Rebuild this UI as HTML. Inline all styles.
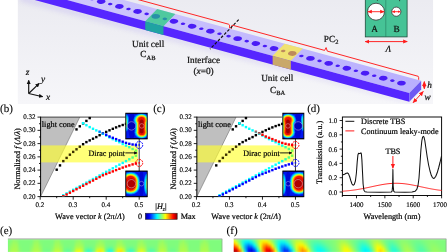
<!DOCTYPE html>
<html lang="en"><head><meta charset="utf-8"><title>Figure</title>
<style>
html,body{margin:0;padding:0;background:#fff;}
body{width:448px;height:252px;overflow:hidden;}
svg{display:block;filter:blur(0.3px);font-family:"Liberation Serif","Times New Roman",serif;text-rendering:geometricPrecision;}
.t{font-size:9.3px;fill:#111;stroke:#111;stroke-width:0.22px;}
.p{font-size:8.2px;fill:#000;stroke:#000;stroke-width:0.2px;}
.tk{font-size:7px;fill:#000;stroke:#000;stroke-width:0.15px;}
.lab{font-size:11px;fill:#000;stroke:#000;stroke-width:0.1px;}
.it{font-style:italic;}
</style></head><body>
<svg width="448" height="252" viewBox="0 0 448 252">
<defs>
<linearGradient id="topf" gradientUnits="userSpaceOnUse" x1="60" y1="0" x2="420" y2="0"><stop offset="0" stop-color="#cfc8fc"/><stop offset="1" stop-color="#b9affe"/></linearGradient>
<linearGradient id="bg" x1="0" y1="0" x2="0" y2="1"><stop offset="0" stop-color="#ebebf1"/><stop offset="1" stop-color="#f6f6f9"/></linearGradient>
<linearGradient id="jet" x1="0" y1="0" x2="1" y2="0">
<stop offset="0" stop-color="#00008f"/><stop offset="0.12" stop-color="#0000ff"/><stop offset="0.37" stop-color="#00ffff"/><stop offset="0.5" stop-color="#80ff80"/><stop offset="0.63" stop-color="#ffff00"/><stop offset="0.88" stop-color="#ff0000"/><stop offset="1" stop-color="#800000"/></linearGradient>
<radialGradient id="redblob" cx="0.5" cy="0.5" r="0.5">
<stop offset="0" stop-color="#a00000"/><stop offset="0.3" stop-color="#e00000"/><stop offset="0.5" stop-color="#ff3000"/><stop offset="0.64" stop-color="#ffd000"/><stop offset="0.76" stop-color="#80ff80"/><stop offset="0.88" stop-color="#00d8ff"/><stop offset="1" stop-color="#0040ff" stop-opacity="0"/></radialGradient>
<radialGradient id="edgeblob" cx="0.5" cy="0.5" r="0.5">
<stop offset="0" stop-color="#ffe000"/><stop offset="0.35" stop-color="#60ffa0"/><stop offset="0.7" stop-color="#00c0ff"/><stop offset="1" stop-color="#0040ff" stop-opacity="0"/></radialGradient>
<radialGradient id="gy" cx="0.5" cy="0.5" r="0.5"><stop offset="0" stop-color="#ffe000"/><stop offset="0.5" stop-color="#d8ff30" stop-opacity="0.7"/><stop offset="1" stop-color="#a0ff60" stop-opacity="0"/></radialGradient>
<radialGradient id="gc" cx="0.5" cy="0.5" r="0.5"><stop offset="0" stop-color="#00e8ff"/><stop offset="0.5" stop-color="#30ffc0" stop-opacity="0.7"/><stop offset="1" stop-color="#60ffa0" stop-opacity="0"/></radialGradient>
<radialGradient id="gr" cx="0.5" cy="0.5" r="0.5"><stop offset="0" stop-color="#c00000"/><stop offset="0.3" stop-color="#ff2000"/><stop offset="0.55" stop-color="#ffc000"/><stop offset="0.8" stop-color="#c0ff40" stop-opacity="0.8"/><stop offset="1" stop-color="#80ff80" stop-opacity="0"/></radialGradient>
<radialGradient id="gb" cx="0.5" cy="0.5" r="0.5"><stop offset="0" stop-color="#0020e0"/><stop offset="0.35" stop-color="#0070ff"/><stop offset="0.6" stop-color="#00d8ff"/><stop offset="0.85" stop-color="#40ffc0" stop-opacity="0.8"/><stop offset="1" stop-color="#80ff80" stop-opacity="0"/></radialGradient>
<filter id="b1" x="-20%" y="-20%" width="140%" height="140%" color-interpolation-filters="sRGB"><feGaussianBlur stdDeviation="0.55"/></filter>
<filter id="b2" x="-20%" y="-50%" width="140%" height="200%" color-interpolation-filters="sRGB"><feGaussianBlur stdDeviation="2.5"/></filter>
<filter id="soft" color-interpolation-filters="sRGB"><feGaussianBlur stdDeviation="0.35"/></filter>
<marker id="ar" viewBox="0 0 6 6" refX="5.2" refY="3" markerWidth="4.9" markerHeight="4.9" orient="auto-start-reverse"><path d="M0,0.4 L6,3 L0,5.6 Z" fill="#ff1a1a"/></marker>
<marker id="ars" viewBox="0 0 6 6" refX="5.2" refY="3" markerWidth="3.4" markerHeight="3.4" orient="auto-start-reverse"><path d="M0,0.4 L6,3 L0,5.6 Z" fill="#ff1a1a"/></marker>
<marker id="ak" viewBox="0 0 6 6" refX="5" refY="3" markerWidth="3.9" markerHeight="3.9" orient="auto-start-reverse"><path d="M0,0.3 L6,3 L0,5.7 Z" fill="#111"/></marker>

<clipPath id="cpTop"><rect x="17.6" y="0" width="415.6" height="104.2"/></clipPath>
</defs>
<g clip-path="url(#cpTop)">
<rect x="17.6" y="0" width="415.6" height="104.2" fill="url(#bg)"/>
<polygon points="20,-5.00 409.7,100.88 413.7,103.88 20,1.00" fill="#b9aef0" opacity="0.38" filter="url(#b2)"/>
<polygon points="-20,-23.67 409.3,92.98 421.20,80.78 -8.1,-35.87" fill="url(#topf)"/>
<polygon points="-20,-23.67 409.3,92.98 409.3,101.78 -20,-14.87" fill="#5626ff"/>
<polygon points="409.3,92.98 421.20,80.78 421.20,89.58 409.3,101.78" fill="#6d58f2"/>
<polygon points="145.25,21.23 163.45,26.18 175.35,13.98 157.15,9.03" fill="#4fc99f"/>
<polygon points="145.25,21.23 163.45,26.18 163.45,34.98 145.25,30.03" fill="#1fa3a2"/>
<polygon points="272.65,55.85 290.85,60.79 302.75,48.59 284.55,43.65" fill="#f0e272"/>
<polygon points="272.65,55.85 290.85,60.79 290.85,69.59 272.65,64.65" fill="#c9a86a"/>
<circle r="2.0" fill="#4a1cf6" transform="matrix(1,0.2717,0.545,-0.559,219.45,33.68)"/>
<circle r="2.0" fill="#4a1cf6" transform="matrix(1,0.2717,0.545,-0.559,228.55,36.15)"/>
<circle r="3.8" fill="#4a1cf6" transform="matrix(1,0.2717,0.545,-0.559,210.35,31.20)"/>
<circle r="3.8" fill="#4a1cf6" transform="matrix(1,0.2717,0.545,-0.559,237.65,38.62)"/>
<circle r="2.0" fill="#4a1cf6" transform="matrix(1,0.2717,0.545,-0.559,201.25,28.73)"/>
<circle r="2.0" fill="#4a1cf6" transform="matrix(1,0.2717,0.545,-0.559,246.75,41.09)"/>
<circle r="3.8" fill="#4a1cf6" transform="matrix(1,0.2717,0.545,-0.559,192.15,26.26)"/>
<circle r="3.8" fill="#4a1cf6" transform="matrix(1,0.2717,0.545,-0.559,255.85,43.57)"/>
<circle r="2.0" fill="#4a1cf6" transform="matrix(1,0.2717,0.545,-0.559,183.05,23.79)"/>
<circle r="2.0" fill="#4a1cf6" transform="matrix(1,0.2717,0.545,-0.559,264.95,46.04)"/>
<circle r="3.8" fill="#4a1cf6" transform="matrix(1,0.2717,0.545,-0.559,173.95,21.31)"/>
<circle r="3.8" fill="#4a1cf6" transform="matrix(1,0.2717,0.545,-0.559,274.05,48.51)"/>
<circle r="2.0" fill="#2790a8" transform="matrix(1,0.2717,0.545,-0.559,164.85,18.84)"/>
<circle r="2.0" fill="#bd8a5c" transform="matrix(1,0.2717,0.545,-0.559,283.15,50.98)"/>
<circle r="3.8" fill="#2790a8" transform="matrix(1,0.2717,0.545,-0.559,155.75,16.37)"/>
<circle r="3.8" fill="#bd8a5c" transform="matrix(1,0.2717,0.545,-0.559,292.25,53.46)"/>
<circle r="2.0" fill="#4a1cf6" transform="matrix(1,0.2717,0.545,-0.559,146.65,13.90)"/>
<circle r="2.0" fill="#4a1cf6" transform="matrix(1,0.2717,0.545,-0.559,301.35,55.93)"/>
<circle r="3.8" fill="#4a1cf6" transform="matrix(1,0.2717,0.545,-0.559,137.55,11.42)"/>
<circle r="3.8" fill="#4a1cf6" transform="matrix(1,0.2717,0.545,-0.559,310.45,58.40)"/>
<circle r="2.0" fill="#4a1cf6" transform="matrix(1,0.2717,0.545,-0.559,128.45,8.95)"/>
<circle r="2.0" fill="#4a1cf6" transform="matrix(1,0.2717,0.545,-0.559,319.55,60.87)"/>
<circle r="3.8" fill="#4a1cf6" transform="matrix(1,0.2717,0.545,-0.559,119.35,6.48)"/>
<circle r="3.8" fill="#4a1cf6" transform="matrix(1,0.2717,0.545,-0.559,328.65,63.35)"/>
<circle r="2.0" fill="#4a1cf6" transform="matrix(1,0.2717,0.545,-0.559,110.25,4.01)"/>
<circle r="2.0" fill="#4a1cf6" transform="matrix(1,0.2717,0.545,-0.559,337.75,65.82)"/>
<circle r="3.8" fill="#4a1cf6" transform="matrix(1,0.2717,0.545,-0.559,101.15,1.54)"/>
<circle r="3.8" fill="#4a1cf6" transform="matrix(1,0.2717,0.545,-0.559,346.85,68.29)"/>
<circle r="2.0" fill="#4a1cf6" transform="matrix(1,0.2717,0.545,-0.559,92.05,-0.94)"/>
<circle r="2.0" fill="#4a1cf6" transform="matrix(1,0.2717,0.545,-0.559,355.95,70.76)"/>
<circle r="3.8" fill="#4a1cf6" transform="matrix(1,0.2717,0.545,-0.559,365.05,73.24)"/>
<circle r="2.0" fill="#4a1cf6" transform="matrix(1,0.2717,0.545,-0.559,374.15,75.71)"/>
<circle r="3.8" fill="#4a1cf6" transform="matrix(1,0.2717,0.545,-0.559,383.25,78.18)"/>
<circle r="2.0" fill="#4a1cf6" transform="matrix(1,0.2717,0.545,-0.559,392.35,80.65)"/>
<circle r="3.8" fill="#4a1cf6" transform="matrix(1,0.2717,0.545,-0.559,401.45,83.13)"/>
<path d="M100,-10.8 L228.5,24.2 Q229.6,24.5 229.6,25.9 L229.6,28.3 M231.5,28.8 L231.5,26.4 Q231.5,25.0 232.9,25.3 L324.6,50.4 L326.1,47.6 L327.3,51.1 L418.2,76.3 Q418.8,76.6 418.7,79.8" fill="none" stroke="#ff1a1a" stroke-width="0.95"/>
<path d="M238.7,19.6 L210,49.2" stroke="#111" stroke-width="1.15" stroke-dasharray="2.8,1.7" fill="none"/>
<path d="M424.3,81.6 L424.3,88.8" stroke="#ff1a1a" stroke-width="1" marker-start="url(#ar)" marker-end="url(#ar)" fill="none"/>
<path d="M413.2,102.6 L423.2,91.6" stroke="#ff1a1a" stroke-width="1" marker-start="url(#ar)" marker-end="url(#ar)" fill="none"/>
<text class="t it" x="427.2" y="88.2" font-size="9.3">h</text>
<text class="t it" x="424.4" y="100.4">w</text>
<rect x="365.3" y="-3" width="41.8" height="39.9" fill="#46c396" stroke="#1f4d3d" stroke-width="0.8"/>
<path d="M385.8,0 V36.9" stroke="#1f6d55" stroke-width="0.5"/>
<circle cx="376" cy="11.7" r="8.5" fill="#fff" stroke="#333" stroke-width="0.8"/>
<circle cx="396.3" cy="11.7" r="4.6" fill="#fff" stroke="#333" stroke-width="0.8"/>
<path d="M368,11.7 H384" stroke="#ff1a1a" stroke-width="0.9" marker-start="url(#ar)" marker-end="url(#ar)"/>
<path d="M392.3,11.7 H400.3" stroke="#ff1a1a" stroke-width="0.9" marker-start="url(#ars)" marker-end="url(#ars)"/>
<path d="M377.4,0 V0.8 M399.6,0 V1.2" stroke="#222" stroke-width="0.8"/>
<text class="t" x="374.7" y="31.7" text-anchor="middle" font-size="9.6">A</text>
<text class="t" x="396.6" y="31.7" text-anchor="middle" font-size="9.6">B</text>
<path d="M365.2,41.6 H407.2" stroke="#ff1a1a" stroke-width="0.95" marker-start="url(#ar)" marker-end="url(#ar)"/>
<text class="t it" x="388.2" y="52.3" text-anchor="middle" font-size="10.2">Λ</text>
<text class="t" x="148.1" y="46.6" text-anchor="middle">Unit cell</text>
<text class="t" x="140.3" y="57.4">C<tspan font-size="6.5" dy="2.4">AB</tspan></text>
<text class="t" x="203.5" y="62.9" text-anchor="middle">Interface</text>
<text class="t" x="203.6" y="74.3" text-anchor="middle">(<tspan class="it">x</tspan>=0)</text>
<text class="t" x="277.3" y="80.7" text-anchor="middle">Unit cell</text>
<text class="t" x="270" y="92.6">C<tspan font-size="6.5" dy="2.2">BA</tspan></text>
<text class="t" x="323.8" y="41.9">PC<tspan font-size="6.5" dy="2.4">2</tspan></text>
<g stroke="#111" stroke-width="1.15" fill="none">
<path d="M28.7,93.5 V80.4" marker-end="url(#ak)"/>
<path d="M28.7,93.5 L39.2,83.4" marker-end="url(#ak)"/>
<path d="M28.7,93.5 L42.6,96.7" marker-end="url(#ak)"/>
</g>
<text class="t it" x="27.6" y="74.6" text-anchor="middle">z</text>
<text class="t it" x="43" y="81.6" text-anchor="middle">y</text>
<text class="t it" x="48" y="100" text-anchor="middle">x</text>
</g>
<text class="lab" x="0" y="111.7">(b)</text>
<text class="lab" x="153.2" y="111.7">(c)</text>
<text class="lab" x="307.2" y="111.7">(d)</text>
<text class="lab" x="0" y="234.3">(e)</text>
<text class="lab" x="226.6" y="234.3">(f)</text>
<g>
<polygon points="40.6,117.1 79.80,117.1 40.6,196.6" fill="#bfbfbf"/>
<path d="M79.80,117.1 L40.6,196.6" stroke="#555" stroke-width="0.5"/>
<rect x="40.6" y="145.4" width="97.40" height="17.0" fill="#ffff30" opacity="0.65"/>
<path d="M40.6,117.1 H125.7" stroke="#333" stroke-width="0.9"/>
<path d="M40.6,116.69999999999999 V196.6 H147.2" stroke="#000" stroke-width="1" fill="none"/>
<path d="M139.20,138.9 V171.1" stroke="#000" stroke-width="0.8"/>
<path d="M37.5,196.60 H40.6 M39.0,189.97 H40.6 M37.5,183.35 H40.6 M39.0,176.72 H40.6 M37.5,170.10 H40.6 M39.0,163.47 H40.6 M37.5,156.85 H40.6 M39.0,150.22 H40.6 M37.5,143.60 H40.6 M39.0,136.97 H40.6 M37.5,130.35 H40.6 M39.0,123.72 H40.6 M37.5,117.10 H40.6 M40.20,196.6 V199.7 M56.70,196.6 V198.2 M73.20,196.6 V199.7 M89.70,196.6 V198.2 M106.20,196.6 V199.7 M122.70,196.6 V198.2 M139.20,196.6 V199.7 " stroke="#000" stroke-width="0.85" fill="none"/>
<text class="tk" x="35.4" y="198.60" text-anchor="end">0.20</text>
<text class="tk" x="35.4" y="185.35" text-anchor="end">0.22</text>
<text class="tk" x="35.4" y="172.10" text-anchor="end">0.24</text>
<text class="tk" x="35.4" y="158.85" text-anchor="end">0.26</text>
<text class="tk" x="35.4" y="145.60" text-anchor="end">0.28</text>
<text class="tk" x="35.4" y="132.35" text-anchor="end">0.30</text>
<text class="tk" x="35.4" y="119.10" text-anchor="end">0.32</text>
<text class="tk" x="39.80" y="207.4" text-anchor="middle">0.2</text>
<text class="tk" x="72.80" y="207.4" text-anchor="middle">0.3</text>
<text class="tk" x="105.80" y="207.4" text-anchor="middle">0.4</text>
<text class="tk" x="138.80" y="207.4" text-anchor="middle">0.5</text>
<text class="p" transform="translate(19.6,158.9) rotate(-90)" text-anchor="middle" font-size="8.64">Normalized <tspan class="it">f</tspan> (<tspan class="it">Λ</tspan>/<tspan class="it">λ</tspan>)</text>
<text class="p" x="89.9" y="218.6" text-anchor="middle" font-size="8.45">Wave vector <tspan class="it">k</tspan> (2π/<tspan class="it">Λ</tspan>)</text>
<text class="p" x="41.8" y="127.1" textLength="32.8" lengthAdjust="spacingAndGlyphs">light cone</text>
<text class="p" x="88.5" y="155.5" textLength="36.5" lengthAdjust="spacingAndGlyphs">Dirac point</text>
<path d="M125.3,152.9 H137.0" stroke="#000" stroke-width="0.9" marker-end="url(#ak)"/>
<rect x="75.30" y="128.20" width="2.4" height="2.4" fill="#000"/>
<rect x="78.60" y="125.10" width="2.4" height="2.4" fill="#000"/>
<rect x="81.90" y="122.20" width="2.4" height="2.4" fill="#000"/>
<rect x="85.20" y="119.70" width="2.4" height="2.4" fill="#000"/>
<rect x="88.50" y="116.90" width="2.4" height="2.4" fill="#000"/>
<rect x="55.50" y="168.50" width="2.4" height="2.4" fill="#000"/>
<rect x="58.80" y="164.20" width="2.4" height="2.4" fill="#000"/>
<rect x="62.10" y="159.90" width="2.4" height="2.4" fill="#3c3000"/>
<rect x="65.40" y="156.70" width="2.4" height="2.4" fill="#3c3000"/>
<rect x="68.70" y="153.50" width="2.4" height="2.4" fill="#3c3000"/>
<rect x="72.00" y="150.70" width="2.4" height="2.4" fill="#3c3000"/>
<rect x="75.30" y="148.10" width="2.4" height="2.4" fill="#3c3000"/>
<rect x="78.60" y="145.50" width="2.4" height="2.4" fill="#3c3000"/>
<rect x="81.90" y="143.00" width="2.4" height="2.4" fill="#000"/>
<rect x="85.20" y="140.90" width="2.4" height="2.4" fill="#000"/>
<rect x="88.50" y="139.20" width="2.4" height="2.4" fill="#000"/>
<rect x="91.80" y="137.50" width="2.4" height="2.4" fill="#000"/>
<rect x="95.10" y="135.90" width="2.4" height="2.4" fill="#000"/>
<rect x="98.40" y="134.00" width="2.4" height="2.4" fill="#000"/>
<rect x="101.70" y="132.30" width="2.4" height="2.4" fill="#000"/>
<rect x="105.00" y="130.70" width="2.4" height="2.4" fill="#000"/>
<rect x="108.30" y="129.10" width="2.4" height="2.4" fill="#000"/>
<rect x="111.60" y="127.60" width="2.4" height="2.4" fill="#000"/>
<rect x="114.90" y="126.20" width="2.4" height="2.4" fill="#000"/>
<rect x="118.20" y="124.90" width="2.4" height="2.4" fill="#000"/>
<rect x="121.50" y="123.80" width="2.4" height="2.4" fill="#000"/>
<rect x="124.80" y="122.70" width="2.4" height="2.4" fill="#000"/>
<rect x="81.90" y="122.00" width="2.4" height="2.4" fill="#00ffff"/>
<rect x="85.20" y="124.00" width="2.4" height="2.4" fill="#00ffff"/>
<rect x="88.50" y="125.90" width="2.4" height="2.4" fill="#00ffff"/>
<rect x="91.80" y="127.60" width="2.4" height="2.4" fill="#00ffff"/>
<rect x="95.10" y="129.20" width="2.4" height="2.4" fill="#00ffff"/>
<rect x="98.40" y="130.80" width="2.4" height="2.4" fill="#00ffff"/>
<rect x="101.70" y="132.60" width="2.4" height="2.4" fill="#00ffff"/>
<rect x="105.00" y="134.40" width="2.4" height="2.4" fill="#00ffff"/>
<rect x="108.30" y="136.20" width="2.4" height="2.4" fill="#00ffff"/>
<rect x="111.60" y="137.90" width="2.4" height="2.4" fill="#00ffff"/>
<rect x="114.90" y="139.60" width="2.4" height="2.4" fill="#00ffff"/>
<rect x="118.20" y="141.00" width="2.4" height="2.4" fill="#00ffff"/>
<rect x="121.50" y="142.80" width="2.4" height="2.4" fill="#00ffff"/>
<rect x="124.80" y="144.40" width="2.4" height="2.4" fill="#10ffe6"/>
<rect x="128.10" y="146.00" width="2.4" height="2.4" fill="#30ffb4"/>
<rect x="131.40" y="147.80" width="2.4" height="2.4" fill="#50ff82"/>
<rect x="134.70" y="149.40" width="2.4" height="2.4" fill="#70ff50"/>
<rect x="62.10" y="194.00" width="2.4" height="2.4" fill="#00ffff"/>
<rect x="65.40" y="192.21" width="2.4" height="2.4" fill="#00ffff"/>
<rect x="68.70" y="190.41" width="2.4" height="2.4" fill="#00ffff"/>
<rect x="72.00" y="188.62" width="2.4" height="2.4" fill="#00ffff"/>
<rect x="75.30" y="186.82" width="2.4" height="2.4" fill="#00ffff"/>
<rect x="78.60" y="185.03" width="2.4" height="2.4" fill="#00ffff"/>
<rect x="81.90" y="183.23" width="2.4" height="2.4" fill="#00ffff"/>
<rect x="85.20" y="181.44" width="2.4" height="2.4" fill="#00ffff"/>
<rect x="88.50" y="179.64" width="2.4" height="2.4" fill="#00ffff"/>
<rect x="91.80" y="177.84" width="2.4" height="2.4" fill="#00ffff"/>
<rect x="95.10" y="176.05" width="2.4" height="2.4" fill="#00ffff"/>
<rect x="98.40" y="174.25" width="2.4" height="2.4" fill="#00ffff"/>
<rect x="101.70" y="172.46" width="2.4" height="2.4" fill="#00ffff"/>
<rect x="105.00" y="170.66" width="2.4" height="2.4" fill="#00ffff"/>
<rect x="108.30" y="168.87" width="2.4" height="2.4" fill="#00ffff"/>
<rect x="111.60" y="167.07" width="2.4" height="2.4" fill="#00ffff"/>
<rect x="114.90" y="165.28" width="2.4" height="2.4" fill="#00ffff"/>
<rect x="118.20" y="163.49" width="2.4" height="2.4" fill="#00ffff"/>
<rect x="121.50" y="161.69" width="2.4" height="2.4" fill="#00ffff"/>
<rect x="124.80" y="159.90" width="2.4" height="2.4" fill="#10ffe6"/>
<rect x="128.10" y="158.10" width="2.4" height="2.4" fill="#30ffb4"/>
<rect x="131.40" y="156.31" width="2.4" height="2.4" fill="#50ff82"/>
<rect x="134.70" y="154.51" width="2.4" height="2.4" fill="#70ff50"/>
<rect x="98.40" y="130.40" width="2.4" height="2.4" fill="#0000ff" opacity="0.55"/>
<rect x="101.70" y="132.10" width="2.4" height="2.4" fill="#0000ff" opacity="0.55"/>
<rect x="105.00" y="133.60" width="2.4" height="2.4" fill="#0000ff"/>
<rect x="108.30" y="135.30" width="2.4" height="2.4" fill="#0000ff"/>
<rect x="111.60" y="136.60" width="2.4" height="2.4" fill="#0000ff"/>
<rect x="114.90" y="137.90" width="2.4" height="2.4" fill="#0000ff"/>
<rect x="118.20" y="139.20" width="2.4" height="2.4" fill="#0000ff"/>
<rect x="121.50" y="140.50" width="2.4" height="2.4" fill="#0000ff"/>
<rect x="124.80" y="141.70" width="2.4" height="2.4" fill="#0000ff"/>
<rect x="128.10" y="142.60" width="2.4" height="2.4" fill="#0000ff"/>
<rect x="131.40" y="143.30" width="2.4" height="2.4" fill="#0000ff"/>
<rect x="134.70" y="143.70" width="2.4" height="2.4" fill="#0000ff"/>
<rect x="62.10" y="195.00" width="2.4" height="1.3" fill="#ff0000"/>
<rect x="65.40" y="193.26" width="2.4" height="2.4" fill="#ff0000"/>
<rect x="68.70" y="191.52" width="2.4" height="2.4" fill="#ff0000"/>
<rect x="72.00" y="189.78" width="2.4" height="2.4" fill="#ff0000"/>
<rect x="75.30" y="188.04" width="2.4" height="2.4" fill="#ff0000"/>
<rect x="78.60" y="186.30" width="2.4" height="2.4" fill="#ff0000"/>
<rect x="81.90" y="184.56" width="2.4" height="2.4" fill="#ff0000"/>
<rect x="85.20" y="182.82" width="2.4" height="2.4" fill="#ff0000"/>
<rect x="88.50" y="181.08" width="2.4" height="2.4" fill="#ff0000"/>
<rect x="91.80" y="179.34" width="2.4" height="2.4" fill="#ff0000"/>
<rect x="95.10" y="177.60" width="2.4" height="2.4" fill="#ff0000"/>
<rect x="98.40" y="175.86" width="2.4" height="2.4" fill="#ff0000"/>
<rect x="101.70" y="174.12" width="2.4" height="2.4" fill="#ff0000"/>
<rect x="105.00" y="172.80" width="2.4" height="2.4" fill="#ff0000"/>
<rect x="108.30" y="171.50" width="2.4" height="2.4" fill="#ff0000"/>
<rect x="111.60" y="170.20" width="2.4" height="2.4" fill="#ff0000"/>
<rect x="114.90" y="168.90" width="2.4" height="2.4" fill="#ff0000"/>
<rect x="118.20" y="167.60" width="2.4" height="2.4" fill="#ff0000"/>
<rect x="121.50" y="166.40" width="2.4" height="2.4" fill="#ff0000"/>
<rect x="124.80" y="165.30" width="2.4" height="2.4" fill="#ff0000"/>
<rect x="128.10" y="164.20" width="2.4" height="2.4" fill="#ff0000"/>
<rect x="131.40" y="163.20" width="2.4" height="2.4" fill="#ff0000"/>
<rect x="134.70" y="162.30" width="2.4" height="2.4" fill="#ff0000"/>
<circle cx="139.20" cy="145" r="3.55" fill="none" stroke="#0000ff" stroke-width="1" stroke-dasharray="1.8,0.9"/>
<circle cx="139.20" cy="162.9" r="3.55" fill="none" stroke="#ff0000" stroke-width="1" stroke-dasharray="1.8,0.9"/>
<rect x="138.40" y="144.20" width="1.6" height="1.6" fill="#0000ff" opacity="0.8"/>
<rect x="138.40" y="162.10" width="1.6" height="1.6" fill="#ff0000" opacity="0.8"/>
<clipPath id="ci125_113"><rect x="125.8" y="113.2" width="21.4" height="25.7"/></clipPath>
<g clip-path="url(#ci125_113)">
<g transform="">
<rect x="124.8" y="112.2" width="23.4" height="27.7" fill="#0018f0"/>
<g filter="url(#b1)">
<rect x="115.10" y="111.10" width="42.80" height="3.00" rx="0.00" ry="0.00" fill="#000070" opacity="1"/>
<rect x="115.10" y="138.00" width="42.80" height="3.00" rx="0.00" ry="0.00" fill="#000070" opacity="1"/>
<ellipse cx="125.60" cy="122.70" rx="3.60" ry="9.00" fill="#0090ff" opacity="1"/>
<ellipse cx="125.50" cy="122.70" rx="2.70" ry="7.60" fill="#00e8ff" opacity="1"/>
<ellipse cx="125.30" cy="122.70" rx="1.60" ry="5.50" fill="#b0ff60" opacity="1"/>
<ellipse cx="131.80" cy="125.90" rx="3.60" ry="14.00" fill="#0000c8" opacity="0.75"/>
<ellipse cx="141.50" cy="120.00" rx="8.20" ry="6.75" fill="#0060ff" opacity="1"/>
<ellipse cx="141.80" cy="132.20" rx="7.40" ry="6.55" fill="#0060ff" opacity="1"/>
<rect x="134.95" y="119.40" width="13.50" height="13.00" rx="1.50" ry="1.50" fill="#0060ff" opacity="1"/>
<ellipse cx="141.50" cy="120.00" rx="7.30" ry="6.07" fill="#00c0ff" opacity="1"/>
<ellipse cx="141.80" cy="132.20" rx="6.59" ry="5.88" fill="#00c0ff" opacity="1"/>
<rect x="135.67" y="119.40" width="12.06" height="13.00" rx="1.50" ry="1.50" fill="#00c0ff" opacity="1"/>
<ellipse cx="141.50" cy="120.00" rx="6.50" ry="5.47" fill="#20ffd0" opacity="1"/>
<ellipse cx="141.80" cy="132.20" rx="5.87" ry="5.27" fill="#20ffd0" opacity="1"/>
<rect x="136.31" y="119.40" width="10.78" height="13.00" rx="1.50" ry="1.50" fill="#20ffd0" opacity="1"/>
<ellipse cx="141.50" cy="120.00" rx="5.80" ry="4.95" fill="#a0ff50" opacity="1"/>
<ellipse cx="141.80" cy="132.20" rx="5.24" ry="4.75" fill="#a0ff50" opacity="1"/>
<rect x="136.87" y="119.40" width="9.66" height="13.00" rx="1.50" ry="1.50" fill="#a0ff50" opacity="1"/>
<ellipse cx="141.50" cy="120.00" rx="5.10" ry="4.42" fill="#ffe800" opacity="1"/>
<ellipse cx="141.80" cy="132.20" rx="4.61" ry="4.22" fill="#ffe800" opacity="1"/>
<rect x="137.43" y="119.40" width="8.54" height="13.00" rx="1.50" ry="1.50" fill="#ffe800" opacity="1"/>
<ellipse cx="141.50" cy="120.00" rx="4.30" ry="3.83" fill="#ff7000" opacity="1"/>
<ellipse cx="141.80" cy="132.20" rx="3.89" ry="3.62" fill="#ff7000" opacity="1"/>
<rect x="138.07" y="119.40" width="7.26" height="13.00" rx="1.50" ry="1.50" fill="#ff7000" opacity="1"/>
<ellipse cx="141.50" cy="120.00" rx="3.20" ry="3.00" fill="#f01000" opacity="1"/>
<ellipse cx="141.80" cy="132.20" rx="2.90" ry="2.80" fill="#f01000" opacity="1"/>
<rect x="138.95" y="119.40" width="5.50" height="13.00" rx="1.50" ry="1.50" fill="#f01000" opacity="1"/>
<rect x="139.90" y="119.50" width="3.60" height="14.00" rx="1.80" ry="1.80" fill="#a00000" opacity="1"/>
</g>
<circle cx="131.50" cy="125.90" r="4.2" fill="#0000b8" stroke="#b8a8e8" stroke-width="0.55"/>
<circle cx="141.70" cy="125.90" r="2.3" fill="#a80000" stroke="#e8b0b8" stroke-width="0.5"/>
</g></g>
<rect x="125.8" y="113.2" width="21.4" height="25.7" fill="none" stroke="#000" stroke-width="0.9"/>
<clipPath id="ci125_171"><rect x="125.8" y="171.0" width="21.4" height="25.7"/></clipPath>
<g clip-path="url(#ci125_171)">
<g transform="">
<rect x="124.8" y="170.0" width="23.4" height="27.7" fill="#0018f0"/>
<g filter="url(#b1)">
<rect x="115.10" y="168.90" width="42.80" height="3.00" rx="0.00" ry="0.00" fill="#000070" opacity="1"/>
<rect x="115.10" y="195.80" width="42.80" height="3.00" rx="0.00" ry="0.00" fill="#000070" opacity="1"/>
<ellipse cx="147.40" cy="184.20" rx="3.60" ry="11.00" fill="#0090ff" opacity="1"/>
<ellipse cx="147.50" cy="184.20" rx="2.70" ry="9.50" fill="#00e8ff" opacity="1"/>
<ellipse cx="147.70" cy="184.20" rx="1.60" ry="7.00" fill="#b0ff60" opacity="1"/>
<ellipse cx="141.50" cy="183.70" rx="2.40" ry="14.00" fill="#0000c8" opacity="0.7"/>
<rect x="121.20" y="172.10" width="18.80" height="22.40" rx="8.30" ry="8.30" fill="#0060ff" opacity="1"/>
<rect x="122.01" y="172.82" width="17.18" height="20.96" rx="7.67" ry="7.67" fill="#00c0ff" opacity="1"/>
<rect x="122.73" y="173.46" width="15.74" height="19.68" rx="7.11" ry="7.11" fill="#20ffd0" opacity="1"/>
<rect x="123.36" y="174.02" width="14.48" height="18.56" rx="6.62" ry="6.62" fill="#a0ff50" opacity="1"/>
<rect x="123.99" y="174.58" width="13.22" height="17.44" rx="6.13" ry="6.13" fill="#ffe800" opacity="1"/>
<rect x="124.71" y="175.22" width="11.78" height="16.16" rx="5.57" ry="5.57" fill="#ff7000" opacity="1"/>
<rect x="125.70" y="176.10" width="9.80" height="14.40" rx="4.80" ry="4.80" fill="#f01000" opacity="1"/>
<ellipse cx="131.40" cy="183.70" rx="4.40" ry="5.40" fill="#b00000" opacity="1"/>
</g>
<circle cx="131.40" cy="183.70" r="4.2" fill="#b00000" stroke="#f0c0c0" stroke-width="0.55"/>
<circle cx="141.50" cy="183.70" r="2.3" fill="#0000c0" stroke="#b8a8e8" stroke-width="0.5"/>
</g></g>
<rect x="125.8" y="171.0" width="21.4" height="25.7" fill="none" stroke="#000" stroke-width="0.9"/>
</g>
<g>
<polygon points="196.85,117.1 236.05,117.1 196.85,196.6" fill="#bfbfbf"/>
<path d="M236.05,117.1 L196.85,196.6" stroke="#555" stroke-width="0.5"/>
<rect x="196.85" y="145.4" width="97.40" height="17.0" fill="#ffff30" opacity="0.65"/>
<path d="M196.85,117.1 H281.95" stroke="#333" stroke-width="0.9"/>
<path d="M196.85,116.69999999999999 V196.6 H303.45" stroke="#000" stroke-width="1" fill="none"/>
<path d="M295.45,138.9 V171.1" stroke="#000" stroke-width="0.8"/>
<path d="M193.75,196.60 H196.85 M195.25,189.97 H196.85 M193.75,183.35 H196.85 M195.25,176.72 H196.85 M193.75,170.10 H196.85 M195.25,163.47 H196.85 M193.75,156.85 H196.85 M195.25,150.22 H196.85 M193.75,143.60 H196.85 M195.25,136.97 H196.85 M193.75,130.35 H196.85 M195.25,123.72 H196.85 M193.75,117.10 H196.85 M196.45,196.6 V199.7 M212.95,196.6 V198.2 M229.45,196.6 V199.7 M245.95,196.6 V198.2 M262.45,196.6 V199.7 M278.95,196.6 V198.2 M295.45,196.6 V199.7 " stroke="#000" stroke-width="0.85" fill="none"/>
<text class="tk" x="191.65" y="198.60" text-anchor="end">0.20</text>
<text class="tk" x="191.65" y="185.35" text-anchor="end">0.22</text>
<text class="tk" x="191.65" y="172.10" text-anchor="end">0.24</text>
<text class="tk" x="191.65" y="158.85" text-anchor="end">0.26</text>
<text class="tk" x="191.65" y="145.60" text-anchor="end">0.28</text>
<text class="tk" x="191.65" y="132.35" text-anchor="end">0.30</text>
<text class="tk" x="191.65" y="119.10" text-anchor="end">0.32</text>
<text class="tk" x="196.05" y="207.4" text-anchor="middle">0.2</text>
<text class="tk" x="229.05" y="207.4" text-anchor="middle">0.3</text>
<text class="tk" x="262.05" y="207.4" text-anchor="middle">0.4</text>
<text class="tk" x="295.05" y="207.4" text-anchor="middle">0.5</text>
<text class="p" transform="translate(175.85,158.9) rotate(-90)" text-anchor="middle" font-size="8.64">Normalized <tspan class="it">f</tspan> (<tspan class="it">Λ</tspan>/<tspan class="it">λ</tspan>)</text>
<text class="p" x="246.15" y="218.6" text-anchor="middle" font-size="8.45">Wave vector <tspan class="it">k</tspan> (2π/<tspan class="it">Λ</tspan>)</text>
<text class="p" x="198.05" y="127.1" textLength="32.8" lengthAdjust="spacingAndGlyphs">light cone</text>
<text class="p" x="243.25" y="155.5" textLength="36.5" lengthAdjust="spacingAndGlyphs">Dirac point</text>
<path d="M280.05,152.9 H291.75" stroke="#000" stroke-width="0.9" marker-end="url(#ak)"/>
<rect x="231.55" y="128.20" width="2.4" height="2.4" fill="#000"/>
<rect x="234.85" y="125.10" width="2.4" height="2.4" fill="#000"/>
<rect x="238.15" y="122.20" width="2.4" height="2.4" fill="#000"/>
<rect x="241.45" y="119.70" width="2.4" height="2.4" fill="#000"/>
<rect x="244.75" y="116.90" width="2.4" height="2.4" fill="#000"/>
<rect x="215.05" y="164.20" width="2.4" height="2.4" fill="#000"/>
<rect x="218.35" y="159.90" width="2.4" height="2.4" fill="#3c3000"/>
<rect x="221.65" y="156.70" width="2.4" height="2.4" fill="#3c3000"/>
<rect x="224.95" y="153.50" width="2.4" height="2.4" fill="#3c3000"/>
<rect x="228.25" y="150.70" width="2.4" height="2.4" fill="#3c3000"/>
<rect x="231.55" y="148.10" width="2.4" height="2.4" fill="#3c3000"/>
<rect x="234.85" y="145.50" width="2.4" height="2.4" fill="#3c3000"/>
<rect x="238.15" y="143.00" width="2.4" height="2.4" fill="#000"/>
<rect x="241.45" y="140.90" width="2.4" height="2.4" fill="#000"/>
<rect x="244.75" y="139.20" width="2.4" height="2.4" fill="#000"/>
<rect x="248.05" y="137.50" width="2.4" height="2.4" fill="#000"/>
<rect x="251.35" y="135.90" width="2.4" height="2.4" fill="#000"/>
<rect x="254.65" y="134.00" width="2.4" height="2.4" fill="#000"/>
<rect x="257.95" y="132.30" width="2.4" height="2.4" fill="#000"/>
<rect x="261.25" y="130.70" width="2.4" height="2.4" fill="#000"/>
<rect x="264.55" y="129.10" width="2.4" height="2.4" fill="#000"/>
<rect x="267.85" y="127.60" width="2.4" height="2.4" fill="#000"/>
<rect x="271.15" y="126.20" width="2.4" height="2.4" fill="#000"/>
<rect x="274.45" y="124.90" width="2.4" height="2.4" fill="#000"/>
<rect x="277.75" y="123.80" width="2.4" height="2.4" fill="#000"/>
<rect x="281.05" y="122.70" width="2.4" height="2.4" fill="#000"/>
<rect x="238.15" y="122.00" width="2.4" height="2.4" fill="#00ffff"/>
<rect x="241.45" y="124.00" width="2.4" height="2.4" fill="#00ffff"/>
<rect x="244.75" y="125.90" width="2.4" height="2.4" fill="#00ffff"/>
<rect x="248.05" y="127.60" width="2.4" height="2.4" fill="#00ffff"/>
<rect x="251.35" y="129.20" width="2.4" height="2.4" fill="#00ffff"/>
<rect x="254.65" y="130.80" width="2.4" height="2.4" fill="#00ffff"/>
<rect x="257.95" y="132.60" width="2.4" height="2.4" fill="#00ffff"/>
<rect x="261.25" y="134.40" width="2.4" height="2.4" fill="#00ffff"/>
<rect x="264.55" y="136.20" width="2.4" height="2.4" fill="#00ffff"/>
<rect x="267.85" y="137.90" width="2.4" height="2.4" fill="#00ffff"/>
<rect x="271.15" y="139.60" width="2.4" height="2.4" fill="#00ffff"/>
<rect x="274.45" y="141.00" width="2.4" height="2.4" fill="#00ffff"/>
<rect x="277.75" y="142.80" width="2.4" height="2.4" fill="#00ffff"/>
<rect x="281.05" y="144.40" width="2.4" height="2.4" fill="#10ffe6"/>
<rect x="284.35" y="146.00" width="2.4" height="2.4" fill="#30ffb4"/>
<rect x="287.65" y="147.80" width="2.4" height="2.4" fill="#50ff82"/>
<rect x="290.95" y="149.40" width="2.4" height="2.4" fill="#70ff50"/>
<rect x="218.35" y="194.00" width="2.4" height="2.4" fill="#00ffff"/>
<rect x="221.65" y="192.21" width="2.4" height="2.4" fill="#00ffff"/>
<rect x="224.95" y="190.41" width="2.4" height="2.4" fill="#00ffff"/>
<rect x="228.25" y="188.62" width="2.4" height="2.4" fill="#00ffff"/>
<rect x="231.55" y="186.82" width="2.4" height="2.4" fill="#00ffff"/>
<rect x="234.85" y="185.03" width="2.4" height="2.4" fill="#00ffff"/>
<rect x="238.15" y="183.23" width="2.4" height="2.4" fill="#00ffff"/>
<rect x="241.45" y="181.44" width="2.4" height="2.4" fill="#00ffff"/>
<rect x="244.75" y="179.64" width="2.4" height="2.4" fill="#00ffff"/>
<rect x="248.05" y="177.84" width="2.4" height="2.4" fill="#00ffff"/>
<rect x="251.35" y="176.05" width="2.4" height="2.4" fill="#00ffff"/>
<rect x="254.65" y="174.25" width="2.4" height="2.4" fill="#00ffff"/>
<rect x="257.95" y="172.46" width="2.4" height="2.4" fill="#00ffff"/>
<rect x="261.25" y="170.66" width="2.4" height="2.4" fill="#00ffff"/>
<rect x="264.55" y="168.87" width="2.4" height="2.4" fill="#00ffff"/>
<rect x="267.85" y="167.07" width="2.4" height="2.4" fill="#00ffff"/>
<rect x="271.15" y="165.28" width="2.4" height="2.4" fill="#00ffff"/>
<rect x="274.45" y="163.49" width="2.4" height="2.4" fill="#00ffff"/>
<rect x="277.75" y="161.69" width="2.4" height="2.4" fill="#00ffff"/>
<rect x="281.05" y="159.90" width="2.4" height="2.4" fill="#10ffe6"/>
<rect x="284.35" y="158.10" width="2.4" height="2.4" fill="#30ffb4"/>
<rect x="287.65" y="156.31" width="2.4" height="2.4" fill="#50ff82"/>
<rect x="290.95" y="154.51" width="2.4" height="2.4" fill="#70ff50"/>
<rect x="254.65" y="130.40" width="2.4" height="2.4" fill="#ff0000" opacity="0.55"/>
<rect x="257.95" y="132.10" width="2.4" height="2.4" fill="#ff0000" opacity="0.55"/>
<rect x="261.25" y="133.60" width="2.4" height="2.4" fill="#ff0000"/>
<rect x="264.55" y="135.30" width="2.4" height="2.4" fill="#ff0000"/>
<rect x="267.85" y="136.60" width="2.4" height="2.4" fill="#ff0000"/>
<rect x="271.15" y="137.90" width="2.4" height="2.4" fill="#ff0000"/>
<rect x="274.45" y="139.20" width="2.4" height="2.4" fill="#ff0000"/>
<rect x="277.75" y="140.50" width="2.4" height="2.4" fill="#ff0000"/>
<rect x="281.05" y="141.70" width="2.4" height="2.4" fill="#ff0000"/>
<rect x="284.35" y="142.60" width="2.4" height="2.4" fill="#ff0000"/>
<rect x="287.65" y="143.30" width="2.4" height="2.4" fill="#ff0000"/>
<rect x="290.95" y="143.70" width="2.4" height="2.4" fill="#ff0000"/>
<rect x="218.35" y="195.00" width="2.4" height="1.3" fill="#0000ff"/>
<rect x="221.65" y="193.26" width="2.4" height="2.4" fill="#0000ff"/>
<rect x="224.95" y="191.52" width="2.4" height="2.4" fill="#0000ff"/>
<rect x="228.25" y="189.78" width="2.4" height="2.4" fill="#0000ff"/>
<rect x="231.55" y="188.04" width="2.4" height="2.4" fill="#0000ff"/>
<rect x="234.85" y="186.30" width="2.4" height="2.4" fill="#0000ff"/>
<rect x="238.15" y="184.56" width="2.4" height="2.4" fill="#0000ff"/>
<rect x="241.45" y="182.82" width="2.4" height="2.4" fill="#0000ff"/>
<rect x="244.75" y="181.08" width="2.4" height="2.4" fill="#0000ff"/>
<rect x="248.05" y="179.34" width="2.4" height="2.4" fill="#0000ff"/>
<rect x="251.35" y="177.60" width="2.4" height="2.4" fill="#0000ff"/>
<rect x="254.65" y="175.86" width="2.4" height="2.4" fill="#0000ff"/>
<rect x="257.95" y="174.12" width="2.4" height="2.4" fill="#0000ff"/>
<rect x="261.25" y="172.80" width="2.4" height="2.4" fill="#0000ff"/>
<rect x="264.55" y="171.50" width="2.4" height="2.4" fill="#0000ff"/>
<rect x="267.85" y="170.20" width="2.4" height="2.4" fill="#0000ff"/>
<rect x="271.15" y="168.90" width="2.4" height="2.4" fill="#0000ff"/>
<rect x="274.45" y="167.60" width="2.4" height="2.4" fill="#0000ff"/>
<rect x="277.75" y="166.40" width="2.4" height="2.4" fill="#0000ff"/>
<rect x="281.05" y="165.30" width="2.4" height="2.4" fill="#0000ff"/>
<rect x="284.35" y="164.20" width="2.4" height="2.4" fill="#0000ff"/>
<rect x="287.65" y="163.20" width="2.4" height="2.4" fill="#0000ff"/>
<rect x="290.95" y="162.30" width="2.4" height="2.4" fill="#0000ff"/>
<circle cx="295.45" cy="145" r="3.55" fill="none" stroke="#ff0000" stroke-width="1" stroke-dasharray="1.8,0.9"/>
<circle cx="295.45" cy="162.9" r="3.55" fill="none" stroke="#0000ff" stroke-width="1" stroke-dasharray="1.8,0.9"/>
<rect x="294.65" y="144.20" width="1.6" height="1.6" fill="#ff0000" opacity="0.8"/>
<rect x="294.65" y="162.10" width="1.6" height="1.6" fill="#0000ff" opacity="0.8"/>
<clipPath id="ci282_113"><rect x="282.85" y="113.2" width="21.0" height="25.7"/></clipPath>
<g clip-path="url(#ci282_113)">
<g transform="translate(586.70,0) scale(-1,1)">
<rect x="281.85" y="112.2" width="23.0" height="27.7" fill="#0018f0"/>
<g filter="url(#b1)">
<rect x="272.35" y="111.10" width="42.00" height="3.00" rx="0.00" ry="0.00" fill="#000070" opacity="1"/>
<rect x="272.35" y="138.00" width="42.00" height="3.00" rx="0.00" ry="0.00" fill="#000070" opacity="1"/>
<ellipse cx="282.65" cy="122.70" rx="3.60" ry="9.00" fill="#0090ff" opacity="1"/>
<ellipse cx="282.55" cy="122.70" rx="2.70" ry="7.60" fill="#00e8ff" opacity="1"/>
<ellipse cx="282.35" cy="122.70" rx="1.60" ry="5.50" fill="#b0ff60" opacity="1"/>
<ellipse cx="288.85" cy="125.90" rx="3.60" ry="14.00" fill="#0000c8" opacity="0.75"/>
<ellipse cx="298.55" cy="120.00" rx="8.20" ry="6.75" fill="#0060ff" opacity="1"/>
<ellipse cx="298.85" cy="132.20" rx="7.40" ry="6.55" fill="#0060ff" opacity="1"/>
<rect x="292.00" y="119.40" width="13.50" height="13.00" rx="1.50" ry="1.50" fill="#0060ff" opacity="1"/>
<ellipse cx="298.55" cy="120.00" rx="7.30" ry="6.07" fill="#00c0ff" opacity="1"/>
<ellipse cx="298.85" cy="132.20" rx="6.59" ry="5.88" fill="#00c0ff" opacity="1"/>
<rect x="292.72" y="119.40" width="12.06" height="13.00" rx="1.50" ry="1.50" fill="#00c0ff" opacity="1"/>
<ellipse cx="298.55" cy="120.00" rx="6.50" ry="5.47" fill="#20ffd0" opacity="1"/>
<ellipse cx="298.85" cy="132.20" rx="5.87" ry="5.27" fill="#20ffd0" opacity="1"/>
<rect x="293.36" y="119.40" width="10.78" height="13.00" rx="1.50" ry="1.50" fill="#20ffd0" opacity="1"/>
<ellipse cx="298.55" cy="120.00" rx="5.80" ry="4.95" fill="#a0ff50" opacity="1"/>
<ellipse cx="298.85" cy="132.20" rx="5.24" ry="4.75" fill="#a0ff50" opacity="1"/>
<rect x="293.92" y="119.40" width="9.66" height="13.00" rx="1.50" ry="1.50" fill="#a0ff50" opacity="1"/>
<ellipse cx="298.55" cy="120.00" rx="5.10" ry="4.42" fill="#ffe800" opacity="1"/>
<ellipse cx="298.85" cy="132.20" rx="4.61" ry="4.22" fill="#ffe800" opacity="1"/>
<rect x="294.48" y="119.40" width="8.54" height="13.00" rx="1.50" ry="1.50" fill="#ffe800" opacity="1"/>
<ellipse cx="298.55" cy="120.00" rx="4.30" ry="3.83" fill="#ff7000" opacity="1"/>
<ellipse cx="298.85" cy="132.20" rx="3.89" ry="3.62" fill="#ff7000" opacity="1"/>
<rect x="295.12" y="119.40" width="7.26" height="13.00" rx="1.50" ry="1.50" fill="#ff7000" opacity="1"/>
<ellipse cx="298.55" cy="120.00" rx="3.20" ry="3.00" fill="#f01000" opacity="1"/>
<ellipse cx="298.85" cy="132.20" rx="2.90" ry="2.80" fill="#f01000" opacity="1"/>
<rect x="296.00" y="119.40" width="5.50" height="13.00" rx="1.50" ry="1.50" fill="#f01000" opacity="1"/>
<rect x="296.95" y="119.50" width="3.60" height="14.00" rx="1.80" ry="1.80" fill="#a00000" opacity="1"/>
</g>
<circle cx="288.55" cy="125.90" r="4.2" fill="#0000b8" stroke="#b8a8e8" stroke-width="0.55"/>
<circle cx="298.75" cy="125.90" r="2.3" fill="#a80000" stroke="#e8b0b8" stroke-width="0.5"/>
</g></g>
<rect x="282.85" y="113.2" width="21.0" height="25.7" fill="none" stroke="#000" stroke-width="0.9"/>
<clipPath id="ci282_171"><rect x="282.85" y="171.0" width="21.0" height="25.7"/></clipPath>
<g clip-path="url(#ci282_171)">
<g transform="translate(586.70,0) scale(-1,1)">
<rect x="281.85" y="170.0" width="23.0" height="27.7" fill="#0018f0"/>
<g filter="url(#b1)">
<rect x="272.35" y="168.90" width="42.00" height="3.00" rx="0.00" ry="0.00" fill="#000070" opacity="1"/>
<rect x="272.35" y="195.80" width="42.00" height="3.00" rx="0.00" ry="0.00" fill="#000070" opacity="1"/>
<ellipse cx="304.05" cy="184.20" rx="3.60" ry="11.00" fill="#0090ff" opacity="1"/>
<ellipse cx="304.15" cy="184.20" rx="2.70" ry="9.50" fill="#00e8ff" opacity="1"/>
<ellipse cx="304.35" cy="184.20" rx="1.60" ry="7.00" fill="#b0ff60" opacity="1"/>
<ellipse cx="298.55" cy="183.70" rx="2.40" ry="14.00" fill="#0000c8" opacity="0.7"/>
<rect x="278.25" y="172.10" width="18.80" height="22.40" rx="8.30" ry="8.30" fill="#0060ff" opacity="1"/>
<rect x="279.06" y="172.82" width="17.18" height="20.96" rx="7.67" ry="7.67" fill="#00c0ff" opacity="1"/>
<rect x="279.78" y="173.46" width="15.74" height="19.68" rx="7.11" ry="7.11" fill="#20ffd0" opacity="1"/>
<rect x="280.41" y="174.02" width="14.48" height="18.56" rx="6.62" ry="6.62" fill="#a0ff50" opacity="1"/>
<rect x="281.04" y="174.58" width="13.22" height="17.44" rx="6.13" ry="6.13" fill="#ffe800" opacity="1"/>
<rect x="281.76" y="175.22" width="11.78" height="16.16" rx="5.57" ry="5.57" fill="#ff7000" opacity="1"/>
<rect x="282.75" y="176.10" width="9.80" height="14.40" rx="4.80" ry="4.80" fill="#f01000" opacity="1"/>
<ellipse cx="288.45" cy="183.70" rx="4.40" ry="5.40" fill="#b00000" opacity="1"/>
</g>
<circle cx="288.45" cy="183.70" r="4.2" fill="#b00000" stroke="#f0c0c0" stroke-width="0.55"/>
<circle cx="298.55" cy="183.70" r="2.3" fill="#0000c0" stroke="#b8a8e8" stroke-width="0.5"/>
</g></g>
<rect x="282.85" y="171.0" width="21.0" height="25.7" fill="none" stroke="#000" stroke-width="0.9"/>
</g>
<text class="p it" x="155.3" y="208.9" font-size="8.6"><tspan font-style="normal">|</tspan>H<tspan font-size="5.6" dy="1.6">z</tspan><tspan font-style="normal" dy="-1.6">|</tspan></text>
<text class="p" x="137.9" y="219.1" font-size="8.2">0</text>
<rect x="145.3" y="213.2" width="31.9" height="6.2" fill="url(#jet)" stroke="#222" stroke-width="0.5"/>
<text class="p" x="180.7" y="219.1" font-size="8.2">Max</text>
<g>
<rect x="342.4" y="117.0" width="99.20" height="78.50" fill="none" stroke="#000" stroke-width="0.95"/>
<path d="M339.59999999999997,192.00 H342.4 M340.9,184.85 H342.4 M339.59999999999997,177.70 H342.4 M340.9,170.55 H342.4 M339.59999999999997,163.40 H342.4 M340.9,156.25 H342.4 M339.59999999999997,149.10 H342.4 M340.9,141.95 H342.4 M339.59999999999997,134.80 H342.4 M340.9,127.65 H342.4 M339.59999999999997,120.50 H342.4 M356.49,195.5 V198.3 M384.86,195.5 V198.3 M413.23,195.5 V198.3 M441.60,195.5 V198.3 M342.30,195.5 V197.0 M370.67,195.5 V197.0 M399.04,195.5 V197.0 M427.41,195.5 V197.0 " stroke="#000" stroke-width="0.85" fill="none"/>
<text class="tk" x="337.2" y="194.60" text-anchor="end">0.0</text>
<text class="tk" x="337.2" y="180.30" text-anchor="end">0.2</text>
<text class="tk" x="337.2" y="166.00" text-anchor="end">0.4</text>
<text class="tk" x="337.2" y="151.70" text-anchor="end">0.6</text>
<text class="tk" x="337.2" y="137.40" text-anchor="end">0.8</text>
<text class="tk" x="337.2" y="123.10" text-anchor="end">1.0</text>
<text class="tk" x="356.49" y="206.6" text-anchor="middle">1400</text>
<text class="tk" x="384.86" y="206.6" text-anchor="middle">1500</text>
<text class="tk" x="413.23" y="206.6" text-anchor="middle">1600</text>
<text class="tk" x="440.10" y="206.6" text-anchor="middle">1700</text>
<text class="p" transform="translate(322.2,152.3) rotate(-90)" text-anchor="middle">Transmission (a.u.)</text>
<text class="p" x="392" y="218.6" text-anchor="middle">Wavelength (nm)</text>
<polyline points="342.40,191.23 343.39,191.16 344.38,191.09 345.38,191.00 346.37,190.92 347.36,190.82 348.35,190.73 349.34,190.62 350.34,190.51 351.33,190.39 352.32,190.27 353.31,190.14 354.30,190.00 355.30,189.86 356.29,189.71 357.28,189.56 358.27,189.39 359.26,189.23 360.26,189.05 361.25,188.87 362.24,188.69 363.23,188.50 364.22,188.30 365.22,188.11 366.21,187.90 367.20,187.70 368.19,187.49 369.18,187.28 370.18,187.06 371.17,186.85 372.16,186.63 373.15,186.42 374.14,186.20 375.14,185.99 376.13,185.78 377.12,185.58 378.11,185.37 379.10,185.18 380.10,184.99 381.09,184.80 382.08,184.62 383.07,184.45 384.06,184.29 385.06,184.14 386.05,184.00 387.04,183.87 388.03,183.75 389.02,183.65 390.02,183.55 391.01,183.47 392.00,183.41 392.99,183.35 393.98,183.31 394.98,183.29 395.97,183.28 396.96,183.28 397.95,183.30 398.94,183.33 399.94,183.38 400.93,183.44 401.92,183.51 402.91,183.60 403.90,183.70 404.90,183.81 405.89,183.94 406.88,184.07 407.87,184.22 408.86,184.38 409.86,184.54 410.85,184.72 411.84,184.90 412.83,185.08 413.82,185.28 414.82,185.48 415.81,185.68 416.80,185.89 417.79,186.10 418.78,186.32 419.78,186.53 420.77,186.75 421.76,186.96 422.75,187.17 423.74,187.39 424.74,187.60 425.73,187.81 426.72,188.01 427.71,188.21 428.70,188.41 429.70,188.60 430.69,188.79 431.68,188.97 432.67,189.15 433.66,189.32 434.66,189.48 435.65,189.64 436.64,189.79 437.63,189.94 438.62,190.08 439.62,190.21 440.61,190.34 441.60,190.46" fill="none" stroke="#ff1a1a" stroke-width="0.95"/>
<path d="M342.4,175.1 L344.5,174.2 L346.2,173.2 L347.4,172.9 L348.4,173.6 L349.6,176.5 L350.8,180.5 L352,184 L353.1,185.2 L354.2,184.6 L355.4,181 L356.4,173 L357.2,162 L357.9,155 L358.5,153.3 L359.3,153.6 L360.2,153.4 L360.9,152.8 L361.4,154 L361.9,160 L362.5,172 L363.1,184 L363.9,190.3 L365,191.7 L367,192.1 L380,192.2 L391.2,192.1 L392.1,191.2 L392.6,186 L392.9,169.4 L393.2,186 L393.7,191.2 L394.6,192.1 L405,192.2 L412,192 L415,191.3 L416.8,189.3 L418,185.5 L419,178 L419.9,165 L420.9,150 L421.8,141 L422.6,137.2 L423.3,136.3 L424,137 L424.8,140.5 L425.9,148 L427.2,157 L428.6,165 L430,171 L431.3,175.3 L432.4,177.6 L433.5,178.4 L434.6,177.9 L435.8,176.3 L437.2,172.8 L438.6,168 L440,162.5 L441.5,156" fill="none" stroke="#111" stroke-width="1.05" stroke-linejoin="round"/>
<path d="M345.4,121.3 H354.3" stroke="#111" stroke-width="1"/>
<path d="M345.4,130.9 H354.3" stroke="#ff1a1a" stroke-width="1"/>
<text class="p" x="361" y="123.8" textLength="44.4" lengthAdjust="spacingAndGlyphs">Discrete TBS</text>
<text class="p" x="361" y="133.7" textLength="77.6" lengthAdjust="spacingAndGlyphs">Continuum leaky-mode</text>
<text class="p" x="392.9" y="153.6" text-anchor="middle">TBS</text>
<path d="M392.9,156 V168.2" stroke="#ff1a1a" stroke-width="1" marker-end="url(#ar)"/>
</g>
<defs><filter id="vb" x="-2%" y="-20%" width="104%" height="140%" color-interpolation-filters="sRGB"><feGaussianBlur stdDeviation="0 0.9"/></filter></defs>
<clipPath id="sec"><rect x="7.9" y="238.9" width="214.30" height="20"/></clipPath>
<defs><linearGradient id="se0" gradientUnits="userSpaceOnUse" x1="7.9" y1="0" x2="222.2" y2="0"><stop offset="0.0000" stop-color="#80fc7d"/><stop offset="0.0139" stop-color="#82fc7a"/><stop offset="0.0278" stop-color="#8ffc6e"/><stop offset="0.0417" stop-color="#88fc75"/><stop offset="0.0556" stop-color="#80fc7d"/><stop offset="0.0694" stop-color="#80fc7d"/><stop offset="0.0833" stop-color="#80fc7d"/><stop offset="0.0972" stop-color="#80fc7d"/><stop offset="0.1111" stop-color="#80fc7c"/><stop offset="0.1250" stop-color="#8bfc72"/><stop offset="0.1389" stop-color="#8dfc70"/><stop offset="0.1528" stop-color="#81fc7c"/><stop offset="0.1667" stop-color="#80fc7d"/><stop offset="0.1806" stop-color="#7ffc7d"/><stop offset="0.1944" stop-color="#80fc7d"/><stop offset="0.2083" stop-color="#80fc7d"/><stop offset="0.2222" stop-color="#8afc73"/><stop offset="0.2361" stop-color="#8efc6f"/><stop offset="0.2500" stop-color="#81fc7b"/><stop offset="0.2639" stop-color="#80fc7d"/><stop offset="0.2778" stop-color="#7ffc7d"/><stop offset="0.2917" stop-color="#7ffc7d"/><stop offset="0.3056" stop-color="#80fc7d"/><stop offset="0.3194" stop-color="#86fc76"/><stop offset="0.3333" stop-color="#8ffc6d"/><stop offset="0.3472" stop-color="#83fc79"/><stop offset="0.3611" stop-color="#80fc7d"/><stop offset="0.3750" stop-color="#7ffc7d"/><stop offset="0.3889" stop-color="#7ffc7d"/><stop offset="0.4028" stop-color="#80fc7d"/><stop offset="0.4167" stop-color="#84fc79"/><stop offset="0.4306" stop-color="#8ffc6d"/><stop offset="0.4444" stop-color="#86fc77"/><stop offset="0.4583" stop-color="#80fc7d"/><stop offset="0.4722" stop-color="#7ffc7d"/><stop offset="0.4861" stop-color="#7ffc7d"/><stop offset="0.5000" stop-color="#80fc7d"/><stop offset="0.5139" stop-color="#8afc73"/><stop offset="0.5278" stop-color="#8efc6f"/><stop offset="0.5417" stop-color="#81fc7b"/><stop offset="0.5556" stop-color="#80fc7d"/><stop offset="0.5694" stop-color="#7ffc7d"/><stop offset="0.5833" stop-color="#7ffc7d"/><stop offset="0.5972" stop-color="#80fc7d"/><stop offset="0.6111" stop-color="#88fc75"/><stop offset="0.6250" stop-color="#8ffc6e"/><stop offset="0.6389" stop-color="#82fc7a"/><stop offset="0.6528" stop-color="#80fc7d"/><stop offset="0.6667" stop-color="#7ffc7d"/><stop offset="0.6806" stop-color="#7ffc7d"/><stop offset="0.6944" stop-color="#80fc7d"/><stop offset="0.7083" stop-color="#88fc75"/><stop offset="0.7222" stop-color="#8ffc6e"/><stop offset="0.7361" stop-color="#82fc7a"/><stop offset="0.7500" stop-color="#80fc7d"/><stop offset="0.7639" stop-color="#7ffc7d"/><stop offset="0.7778" stop-color="#7ffc7d"/><stop offset="0.7917" stop-color="#80fc7d"/><stop offset="0.8056" stop-color="#87fc75"/><stop offset="0.8194" stop-color="#8ffc6e"/><stop offset="0.8333" stop-color="#83fc7a"/><stop offset="0.8472" stop-color="#80fc7d"/><stop offset="0.8611" stop-color="#80fc7d"/><stop offset="0.8750" stop-color="#80fc7d"/><stop offset="0.8889" stop-color="#80fc7d"/><stop offset="0.9028" stop-color="#84fc79"/><stop offset="0.9167" stop-color="#90fc6d"/><stop offset="0.9306" stop-color="#85fc77"/><stop offset="0.9444" stop-color="#80fc7d"/><stop offset="0.9583" stop-color="#80fc7d"/><stop offset="0.9722" stop-color="#80fc7d"/><stop offset="0.9861" stop-color="#80fc7d"/><stop offset="1.0000" stop-color="#80fc7d"/></linearGradient><linearGradient id="se1" gradientUnits="userSpaceOnUse" x1="7.9" y1="0" x2="222.2" y2="0"><stop offset="0.0000" stop-color="#80fc7d"/><stop offset="0.0139" stop-color="#87fc75"/><stop offset="0.0278" stop-color="#9afc63"/><stop offset="0.0417" stop-color="#92fc6b"/><stop offset="0.0556" stop-color="#80fc7c"/><stop offset="0.0694" stop-color="#80fc7d"/><stop offset="0.0833" stop-color="#80fc7d"/><stop offset="0.0972" stop-color="#80fc7d"/><stop offset="0.1111" stop-color="#81fc7b"/><stop offset="0.1250" stop-color="#96fc67"/><stop offset="0.1389" stop-color="#98fc65"/><stop offset="0.1528" stop-color="#83fc79"/><stop offset="0.1667" stop-color="#80fc7d"/><stop offset="0.1806" stop-color="#7ffc7d"/><stop offset="0.1944" stop-color="#7ffc7d"/><stop offset="0.2083" stop-color="#81fc7c"/><stop offset="0.2222" stop-color="#95fc68"/><stop offset="0.2361" stop-color="#99fc64"/><stop offset="0.2500" stop-color="#85fc78"/><stop offset="0.2639" stop-color="#80fc7d"/><stop offset="0.2778" stop-color="#7ffc7d"/><stop offset="0.2917" stop-color="#7ffc7d"/><stop offset="0.3056" stop-color="#80fc7d"/><stop offset="0.3194" stop-color="#90fc6d"/><stop offset="0.3333" stop-color="#9bfc62"/><stop offset="0.3472" stop-color="#8afc73"/><stop offset="0.3611" stop-color="#80fc7d"/><stop offset="0.3750" stop-color="#7ffc7d"/><stop offset="0.3889" stop-color="#7ffc7d"/><stop offset="0.4028" stop-color="#80fc7d"/><stop offset="0.4167" stop-color="#8bfc72"/><stop offset="0.4306" stop-color="#9bfc62"/><stop offset="0.4444" stop-color="#8ffc6e"/><stop offset="0.4583" stop-color="#80fc7d"/><stop offset="0.4722" stop-color="#7ffc7d"/><stop offset="0.4861" stop-color="#7ffc7d"/><stop offset="0.5000" stop-color="#81fc7c"/><stop offset="0.5139" stop-color="#95fc68"/><stop offset="0.5278" stop-color="#99fc64"/><stop offset="0.5417" stop-color="#85fc78"/><stop offset="0.5556" stop-color="#80fc7d"/><stop offset="0.5694" stop-color="#7ffc7d"/><stop offset="0.5833" stop-color="#7ffc7d"/><stop offset="0.5972" stop-color="#80fc7c"/><stop offset="0.6111" stop-color="#92fc6b"/><stop offset="0.6250" stop-color="#9afc63"/><stop offset="0.6389" stop-color="#87fc75"/><stop offset="0.6528" stop-color="#80fc7d"/><stop offset="0.6667" stop-color="#7ffc7d"/><stop offset="0.6806" stop-color="#7ffc7d"/><stop offset="0.6944" stop-color="#80fc7c"/><stop offset="0.7083" stop-color="#92fc6a"/><stop offset="0.7222" stop-color="#9afc63"/><stop offset="0.7361" stop-color="#87fc76"/><stop offset="0.7500" stop-color="#80fc7d"/><stop offset="0.7639" stop-color="#7ffc7d"/><stop offset="0.7778" stop-color="#7ffc7d"/><stop offset="0.7917" stop-color="#80fc7c"/><stop offset="0.8056" stop-color="#91fc6c"/><stop offset="0.8194" stop-color="#9afc63"/><stop offset="0.8333" stop-color="#88fc74"/><stop offset="0.8472" stop-color="#80fc7d"/><stop offset="0.8611" stop-color="#80fc7d"/><stop offset="0.8750" stop-color="#80fc7d"/><stop offset="0.8889" stop-color="#80fc7d"/><stop offset="0.9028" stop-color="#8bfc71"/><stop offset="0.9167" stop-color="#9bfc62"/><stop offset="0.9306" stop-color="#8efc6f"/><stop offset="0.9444" stop-color="#80fc7d"/><stop offset="0.9583" stop-color="#80fc7d"/><stop offset="0.9722" stop-color="#80fc7d"/><stop offset="0.9861" stop-color="#80fc7d"/><stop offset="1.0000" stop-color="#80fc7d"/></linearGradient><linearGradient id="se2" gradientUnits="userSpaceOnUse" x1="7.9" y1="0" x2="222.2" y2="0"><stop offset="0.0000" stop-color="#80fc7d"/><stop offset="0.0139" stop-color="#8ffc6e"/><stop offset="0.0278" stop-color="#a1fc5d"/><stop offset="0.0417" stop-color="#9bfc62"/><stop offset="0.0556" stop-color="#81fc7b"/><stop offset="0.0694" stop-color="#80fc7d"/><stop offset="0.0833" stop-color="#80fc7d"/><stop offset="0.0972" stop-color="#80fc7d"/><stop offset="0.1111" stop-color="#85fc78"/><stop offset="0.1250" stop-color="#9efc5f"/><stop offset="0.1389" stop-color="#a0fc5e"/><stop offset="0.1528" stop-color="#88fc74"/><stop offset="0.1667" stop-color="#7ffc7d"/><stop offset="0.1806" stop-color="#7ffc7d"/><stop offset="0.1944" stop-color="#7ffc7d"/><stop offset="0.2083" stop-color="#83fc7a"/><stop offset="0.2222" stop-color="#9dfc60"/><stop offset="0.2361" stop-color="#a0fc5d"/><stop offset="0.2500" stop-color="#8bfc72"/><stop offset="0.2639" stop-color="#7ffc7d"/><stop offset="0.2778" stop-color="#7ffc7d"/><stop offset="0.2917" stop-color="#7ffc7d"/><stop offset="0.3056" stop-color="#81fc7c"/><stop offset="0.3194" stop-color="#99fc64"/><stop offset="0.3333" stop-color="#a1fc5c"/><stop offset="0.3472" stop-color="#93fc6a"/><stop offset="0.3611" stop-color="#80fc7d"/><stop offset="0.3750" stop-color="#7ffc7e"/><stop offset="0.3889" stop-color="#7ffc7d"/><stop offset="0.4028" stop-color="#80fc7d"/><stop offset="0.4167" stop-color="#94fc69"/><stop offset="0.4306" stop-color="#a2fc5c"/><stop offset="0.4444" stop-color="#99fc64"/><stop offset="0.4583" stop-color="#80fc7c"/><stop offset="0.4722" stop-color="#7ffc7e"/><stop offset="0.4861" stop-color="#7ffc7e"/><stop offset="0.5000" stop-color="#83fc7a"/><stop offset="0.5139" stop-color="#9efc5f"/><stop offset="0.5278" stop-color="#a1fc5c"/><stop offset="0.5417" stop-color="#8bfc71"/><stop offset="0.5556" stop-color="#7ffc7d"/><stop offset="0.5694" stop-color="#7ffc7e"/><stop offset="0.5833" stop-color="#7ffc7d"/><stop offset="0.5972" stop-color="#81fc7b"/><stop offset="0.6111" stop-color="#9cfc62"/><stop offset="0.6250" stop-color="#a1fc5c"/><stop offset="0.6389" stop-color="#8ffc6d"/><stop offset="0.6528" stop-color="#80fc7d"/><stop offset="0.6667" stop-color="#7ffc7d"/><stop offset="0.6806" stop-color="#7ffc7d"/><stop offset="0.6944" stop-color="#81fc7b"/><stop offset="0.7083" stop-color="#9cfc62"/><stop offset="0.7222" stop-color="#a1fc5c"/><stop offset="0.7361" stop-color="#8ffc6e"/><stop offset="0.7500" stop-color="#80fc7d"/><stop offset="0.7639" stop-color="#7ffc7d"/><stop offset="0.7778" stop-color="#7ffc7d"/><stop offset="0.7917" stop-color="#81fc7c"/><stop offset="0.8056" stop-color="#9afc63"/><stop offset="0.8194" stop-color="#a1fc5c"/><stop offset="0.8333" stop-color="#91fc6c"/><stop offset="0.8472" stop-color="#80fc7d"/><stop offset="0.8611" stop-color="#80fc7d"/><stop offset="0.8750" stop-color="#80fc7d"/><stop offset="0.8889" stop-color="#80fc7d"/><stop offset="0.9028" stop-color="#95fc68"/><stop offset="0.9167" stop-color="#a1fc5c"/><stop offset="0.9306" stop-color="#98fc65"/><stop offset="0.9444" stop-color="#80fc7c"/><stop offset="0.9583" stop-color="#80fc7d"/><stop offset="0.9722" stop-color="#80fc7d"/><stop offset="0.9861" stop-color="#80fc7d"/><stop offset="1.0000" stop-color="#80fc7d"/></linearGradient><linearGradient id="se3" gradientUnits="userSpaceOnUse" x1="7.9" y1="0" x2="222.2" y2="0"><stop offset="0.0000" stop-color="#80fc7d"/><stop offset="0.0139" stop-color="#97fc66"/><stop offset="0.0278" stop-color="#a4fc59"/><stop offset="0.0417" stop-color="#a1fc5c"/><stop offset="0.0556" stop-color="#84fc79"/><stop offset="0.0694" stop-color="#80fc7d"/><stop offset="0.0833" stop-color="#80fc7d"/><stop offset="0.0972" stop-color="#80fc7d"/><stop offset="0.1111" stop-color="#89fc73"/><stop offset="0.1250" stop-color="#a3fc5b"/><stop offset="0.1389" stop-color="#a3fc5a"/><stop offset="0.1528" stop-color="#8ffc6e"/><stop offset="0.1667" stop-color="#7ffc7d"/><stop offset="0.1806" stop-color="#7ffc7e"/><stop offset="0.1944" stop-color="#7ffc7d"/><stop offset="0.2083" stop-color="#87fc76"/><stop offset="0.2222" stop-color="#a3fc5b"/><stop offset="0.2361" stop-color="#a4fc59"/><stop offset="0.2500" stop-color="#93fc6a"/><stop offset="0.2639" stop-color="#7ffc7e"/><stop offset="0.2778" stop-color="#7efc7e"/><stop offset="0.2917" stop-color="#7efc7e"/><stop offset="0.3056" stop-color="#82fc7a"/><stop offset="0.3194" stop-color="#a2fc5c"/><stop offset="0.3333" stop-color="#a7fc56"/><stop offset="0.3472" stop-color="#9cfc61"/><stop offset="0.3611" stop-color="#7efc7e"/><stop offset="0.3750" stop-color="#7cfc81"/><stop offset="0.3889" stop-color="#7dfc80"/><stop offset="0.4028" stop-color="#80fc7c"/><stop offset="0.4167" stop-color="#9efc5f"/><stop offset="0.4306" stop-color="#a9fc55"/><stop offset="0.4444" stop-color="#a1fc5c"/><stop offset="0.4583" stop-color="#80fc7d"/><stop offset="0.4722" stop-color="#7afc82"/><stop offset="0.4861" stop-color="#7bfc81"/><stop offset="0.5000" stop-color="#87fc76"/><stop offset="0.5139" stop-color="#a6fc57"/><stop offset="0.5278" stop-color="#a9fc55"/><stop offset="0.5417" stop-color="#95fc68"/><stop offset="0.5556" stop-color="#7efc7e"/><stop offset="0.5694" stop-color="#7cfc81"/><stop offset="0.5833" stop-color="#7dfc80"/><stop offset="0.5972" stop-color="#83fc79"/><stop offset="0.6111" stop-color="#a3fc5b"/><stop offset="0.6250" stop-color="#a6fc57"/><stop offset="0.6389" stop-color="#98fc65"/><stop offset="0.6528" stop-color="#7ffc7e"/><stop offset="0.6667" stop-color="#7dfc7f"/><stop offset="0.6806" stop-color="#7efc7f"/><stop offset="0.6944" stop-color="#83fc79"/><stop offset="0.7083" stop-color="#a1fc5c"/><stop offset="0.7222" stop-color="#a5fc59"/><stop offset="0.7361" stop-color="#97fc66"/><stop offset="0.7500" stop-color="#7ffc7d"/><stop offset="0.7639" stop-color="#7ffc7e"/><stop offset="0.7778" stop-color="#7ffc7e"/><stop offset="0.7917" stop-color="#83fc7a"/><stop offset="0.8056" stop-color="#a0fc5d"/><stop offset="0.8194" stop-color="#a4fc59"/><stop offset="0.8333" stop-color="#99fc64"/><stop offset="0.8472" stop-color="#80fc7c"/><stop offset="0.8611" stop-color="#80fc7d"/><stop offset="0.8750" stop-color="#80fc7d"/><stop offset="0.8889" stop-color="#80fc7c"/><stop offset="0.9028" stop-color="#9cfc61"/><stop offset="0.9167" stop-color="#a4fc59"/><stop offset="0.9306" stop-color="#9efc5f"/><stop offset="0.9444" stop-color="#81fc7b"/><stop offset="0.9583" stop-color="#80fc7d"/><stop offset="0.9722" stop-color="#80fc7d"/><stop offset="0.9861" stop-color="#80fc7d"/><stop offset="1.0000" stop-color="#80fc7d"/></linearGradient><linearGradient id="se4" gradientUnits="userSpaceOnUse" x1="7.9" y1="0" x2="222.2" y2="0"><stop offset="0.0000" stop-color="#80fc7c"/><stop offset="0.0139" stop-color="#9dfc60"/><stop offset="0.0278" stop-color="#a7fc56"/><stop offset="0.0417" stop-color="#a5fc59"/><stop offset="0.0556" stop-color="#87fc76"/><stop offset="0.0694" stop-color="#80fc7d"/><stop offset="0.0833" stop-color="#80fc7d"/><stop offset="0.0972" stop-color="#80fc7d"/><stop offset="0.1111" stop-color="#8ffc6d"/><stop offset="0.1250" stop-color="#a7fc57"/><stop offset="0.1389" stop-color="#a7fc56"/><stop offset="0.1528" stop-color="#96fc67"/><stop offset="0.1667" stop-color="#7efc7e"/><stop offset="0.1806" stop-color="#7dfc7f"/><stop offset="0.1944" stop-color="#7efc7e"/><stop offset="0.2083" stop-color="#8cfc71"/><stop offset="0.2222" stop-color="#a9fc54"/><stop offset="0.2361" stop-color="#abfc53"/><stop offset="0.2500" stop-color="#9bfc62"/><stop offset="0.2639" stop-color="#7dfc80"/><stop offset="0.2778" stop-color="#79fc84"/><stop offset="0.2917" stop-color="#7bfc82"/><stop offset="0.3056" stop-color="#86fc77"/><stop offset="0.3194" stop-color="#aefc50"/><stop offset="0.3333" stop-color="#b5fc48"/><stop offset="0.3472" stop-color="#a6fc57"/><stop offset="0.3611" stop-color="#79fc83"/><stop offset="0.3750" stop-color="#6ffc8d"/><stop offset="0.3889" stop-color="#74fc89"/><stop offset="0.4028" stop-color="#81fc7c"/><stop offset="0.4167" stop-color="#adfc51"/><stop offset="0.4306" stop-color="#bbfc42"/><stop offset="0.4444" stop-color="#affc4e"/><stop offset="0.4583" stop-color="#7cfc80"/><stop offset="0.4722" stop-color="#69fc93"/><stop offset="0.4861" stop-color="#6dfc8f"/><stop offset="0.5000" stop-color="#8cfc71"/><stop offset="0.5139" stop-color="#b8fc45"/><stop offset="0.5278" stop-color="#bdfc40"/><stop offset="0.5417" stop-color="#a3fc5a"/><stop offset="0.5556" stop-color="#7afc83"/><stop offset="0.5694" stop-color="#6ffc8d"/><stop offset="0.5833" stop-color="#72fc8a"/><stop offset="0.5972" stop-color="#85fc77"/><stop offset="0.6111" stop-color="#adfc50"/><stop offset="0.6250" stop-color="#b3fc4b"/><stop offset="0.6389" stop-color="#a2fc5b"/><stop offset="0.6528" stop-color="#7cfc81"/><stop offset="0.6667" stop-color="#75fc88"/><stop offset="0.6806" stop-color="#77fc85"/><stop offset="0.6944" stop-color="#85fc77"/><stop offset="0.7083" stop-color="#a7fc56"/><stop offset="0.7222" stop-color="#aafc53"/><stop offset="0.7361" stop-color="#9efc5f"/><stop offset="0.7500" stop-color="#7ffc7e"/><stop offset="0.7639" stop-color="#7bfc81"/><stop offset="0.7778" stop-color="#7cfc80"/><stop offset="0.7917" stop-color="#84fc78"/><stop offset="0.8056" stop-color="#a5fc59"/><stop offset="0.8194" stop-color="#a8fc56"/><stop offset="0.8333" stop-color="#9ffc5e"/><stop offset="0.8472" stop-color="#81fc7c"/><stop offset="0.8611" stop-color="#80fc7d"/><stop offset="0.8750" stop-color="#80fc7d"/><stop offset="0.8889" stop-color="#82fc7b"/><stop offset="0.9028" stop-color="#a1fc5c"/><stop offset="0.9167" stop-color="#a7fc56"/><stop offset="0.9306" stop-color="#a3fc5a"/><stop offset="0.9444" stop-color="#83fc7a"/><stop offset="0.9583" stop-color="#80fc7d"/><stop offset="0.9722" stop-color="#80fc7d"/><stop offset="0.9861" stop-color="#80fc7d"/><stop offset="1.0000" stop-color="#80fc7d"/></linearGradient><linearGradient id="se5" gradientUnits="userSpaceOnUse" x1="7.9" y1="0" x2="222.2" y2="0"><stop offset="0.0000" stop-color="#81fc7b"/><stop offset="0.0139" stop-color="#a3fc5b"/><stop offset="0.0278" stop-color="#acfc51"/><stop offset="0.0417" stop-color="#a9fc54"/><stop offset="0.0556" stop-color="#8bfc72"/><stop offset="0.0694" stop-color="#80fc7d"/><stop offset="0.0833" stop-color="#80fc7d"/><stop offset="0.0972" stop-color="#80fc7c"/><stop offset="0.1111" stop-color="#96fc67"/><stop offset="0.1250" stop-color="#adfc51"/><stop offset="0.1389" stop-color="#aefc50"/><stop offset="0.1528" stop-color="#9cfc61"/><stop offset="0.1667" stop-color="#7cfc80"/><stop offset="0.1806" stop-color="#78fc84"/><stop offset="0.1944" stop-color="#7bfc81"/><stop offset="0.2083" stop-color="#92fc6b"/><stop offset="0.2222" stop-color="#b4fc49"/><stop offset="0.2361" stop-color="#b7fc46"/><stop offset="0.2500" stop-color="#a2fc5b"/><stop offset="0.2639" stop-color="#77fc85"/><stop offset="0.2778" stop-color="#6dfc90"/><stop offset="0.2917" stop-color="#72fc8a"/><stop offset="0.3056" stop-color="#8bfc71"/><stop offset="0.3194" stop-color="#c5fc38"/><stop offset="0.3333" stop-color="#d5fc2a"/><stop offset="0.3472" stop-color="#b6fc47"/><stop offset="0.3611" stop-color="#6cfc91"/><stop offset="0.3750" stop-color="#50fcac"/><stop offset="0.3889" stop-color="#5efc9e"/><stop offset="0.4028" stop-color="#81fc7b"/><stop offset="0.4167" stop-color="#c8fc36"/><stop offset="0.4306" stop-color="#e6fc19"/><stop offset="0.4444" stop-color="#cafc34"/><stop offset="0.4583" stop-color="#71fc8b"/><stop offset="0.4722" stop-color="#40fcbc"/><stop offset="0.4861" stop-color="#4cfcb0"/><stop offset="0.5000" stop-color="#91fc6c"/><stop offset="0.5139" stop-color="#e0fc1f"/><stop offset="0.5278" stop-color="#ecfc12"/><stop offset="0.5417" stop-color="#bafc44"/><stop offset="0.5556" stop-color="#6efc8e"/><stop offset="0.5694" stop-color="#51fcab"/><stop offset="0.5833" stop-color="#5afca1"/><stop offset="0.5972" stop-color="#86fc77"/><stop offset="0.6111" stop-color="#c2fc3c"/><stop offset="0.6250" stop-color="#cdfc31"/><stop offset="0.6389" stop-color="#b1fc4c"/><stop offset="0.6528" stop-color="#75fc88"/><stop offset="0.6667" stop-color="#61fc9b"/><stop offset="0.6806" stop-color="#68fc94"/><stop offset="0.6944" stop-color="#85fc77"/><stop offset="0.7083" stop-color="#b0fc4e"/><stop offset="0.7222" stop-color="#b5fc48"/><stop offset="0.7361" stop-color="#a6fc57"/><stop offset="0.7500" stop-color="#7cfc80"/><stop offset="0.7639" stop-color="#74fc88"/><stop offset="0.7778" stop-color="#76fc86"/><stop offset="0.7917" stop-color="#86fc77"/><stop offset="0.8056" stop-color="#aafc53"/><stop offset="0.8194" stop-color="#aefc4f"/><stop offset="0.8333" stop-color="#a5fc58"/><stop offset="0.8472" stop-color="#82fc7b"/><stop offset="0.8611" stop-color="#80fc7d"/><stop offset="0.8750" stop-color="#80fc7d"/><stop offset="0.8889" stop-color="#83fc79"/><stop offset="0.9028" stop-color="#a6fc57"/><stop offset="0.9167" stop-color="#acfc51"/><stop offset="0.9306" stop-color="#a8fc56"/><stop offset="0.9444" stop-color="#85fc77"/><stop offset="0.9583" stop-color="#80fc7d"/><stop offset="0.9722" stop-color="#80fc7d"/><stop offset="0.9861" stop-color="#80fc7d"/><stop offset="1.0000" stop-color="#80fc7d"/></linearGradient><linearGradient id="se6" gradientUnits="userSpaceOnUse" x1="7.9" y1="0" x2="222.2" y2="0"><stop offset="0.0000" stop-color="#82fc7a"/><stop offset="0.0139" stop-color="#a7fc56"/><stop offset="0.0278" stop-color="#b2fc4c"/><stop offset="0.0417" stop-color="#aefc4f"/><stop offset="0.0556" stop-color="#8efc6f"/><stop offset="0.0694" stop-color="#80fc7c"/><stop offset="0.0833" stop-color="#80fc7d"/><stop offset="0.0972" stop-color="#81fc7c"/><stop offset="0.1111" stop-color="#9afc63"/><stop offset="0.1250" stop-color="#b4fc4a"/><stop offset="0.1389" stop-color="#b5fc49"/><stop offset="0.1528" stop-color="#a0fc5d"/><stop offset="0.1667" stop-color="#7afc83"/><stop offset="0.1806" stop-color="#73fc8a"/><stop offset="0.1944" stop-color="#78fc85"/><stop offset="0.2083" stop-color="#98fc65"/><stop offset="0.2222" stop-color="#c1fc3d"/><stop offset="0.2361" stop-color="#c6fc38"/><stop offset="0.2500" stop-color="#a9fc54"/><stop offset="0.2639" stop-color="#70fc8c"/><stop offset="0.2778" stop-color="#5dfc9f"/><stop offset="0.2917" stop-color="#67fc95"/><stop offset="0.3056" stop-color="#91fc6c"/><stop offset="0.3194" stop-color="#e2fc1d"/><stop offset="0.3333" stop-color="#fbfc04"/><stop offset="0.3472" stop-color="#c8fc36"/><stop offset="0.3611" stop-color="#5bfca1"/><stop offset="0.3750" stop-color="#29fcd1"/><stop offset="0.3889" stop-color="#42fcb9"/><stop offset="0.4028" stop-color="#82fc7b"/><stop offset="0.4167" stop-color="#e8fc16"/><stop offset="0.4306" stop-color="#ffe100"/><stop offset="0.4444" stop-color="#e9fc15"/><stop offset="0.4583" stop-color="#62fc9a"/><stop offset="0.4722" stop-color="#0cfcee"/><stop offset="0.4861" stop-color="#22fcd9"/><stop offset="0.5000" stop-color="#96fc67"/><stop offset="0.5139" stop-color="#ffeb00"/><stop offset="0.5278" stop-color="#ffd600"/><stop offset="0.5417" stop-color="#d3fc2b"/><stop offset="0.5556" stop-color="#60fc9c"/><stop offset="0.5694" stop-color="#2bfcd0"/><stop offset="0.5833" stop-color="#3cfcbf"/><stop offset="0.5972" stop-color="#85fc77"/><stop offset="0.6111" stop-color="#dafc24"/><stop offset="0.6250" stop-color="#eefc11"/><stop offset="0.6389" stop-color="#c1fc3d"/><stop offset="0.6528" stop-color="#6bfc91"/><stop offset="0.6667" stop-color="#48fcb3"/><stop offset="0.6806" stop-color="#55fca7"/><stop offset="0.6944" stop-color="#84fc79"/><stop offset="0.7083" stop-color="#bafc44"/><stop offset="0.7222" stop-color="#c3fc3b"/><stop offset="0.7361" stop-color="#aefc50"/><stop offset="0.7500" stop-color="#7afc83"/><stop offset="0.7639" stop-color="#6bfc91"/><stop offset="0.7778" stop-color="#6efc8e"/><stop offset="0.7917" stop-color="#86fc76"/><stop offset="0.8056" stop-color="#b0fc4d"/><stop offset="0.8194" stop-color="#b6fc47"/><stop offset="0.8333" stop-color="#abfc53"/><stop offset="0.8472" stop-color="#83fc79"/><stop offset="0.8611" stop-color="#80fc7d"/><stop offset="0.8750" stop-color="#80fc7d"/><stop offset="0.8889" stop-color="#85fc78"/><stop offset="0.9028" stop-color="#aafc53"/><stop offset="0.9167" stop-color="#b2fc4b"/><stop offset="0.9306" stop-color="#acfc51"/><stop offset="0.9444" stop-color="#87fc75"/><stop offset="0.9583" stop-color="#80fc7d"/><stop offset="0.9722" stop-color="#80fc7d"/><stop offset="0.9861" stop-color="#80fc7d"/><stop offset="1.0000" stop-color="#80fc7d"/></linearGradient></defs>
<g clip-path="url(#sec)"><g filter="url(#vb)"><rect x="5.9" y="238.60" width="218.30" height="2.60" fill="url(#se0)"/><rect x="5.9" y="240.60" width="218.30" height="2.60" fill="url(#se1)"/><rect x="5.9" y="242.60" width="218.30" height="2.60" fill="url(#se2)"/><rect x="5.9" y="244.60" width="218.30" height="2.60" fill="url(#se3)"/><rect x="5.9" y="246.60" width="218.30" height="2.60" fill="url(#se4)"/><rect x="5.9" y="248.60" width="218.30" height="2.60" fill="url(#se5)"/><rect x="5.9" y="250.60" width="218.30" height="2.60" fill="url(#se6)"/></g></g>
<path d="M7.9,238.9 H222.2" stroke="#8a8a8a" stroke-width="0.7"/>
<path d="M222.0,238.9 V252" stroke="#8a9a8a" stroke-width="0.6"/>
<clipPath id="sfc"><rect x="233.7" y="238.9" width="212.60" height="20"/></clipPath>
<defs><linearGradient id="sf0" gradientUnits="userSpaceOnUse" x1="233.7" y1="0" x2="446.3" y2="0"><stop offset="0.0000" stop-color="#cafc34"/><stop offset="0.0141" stop-color="#9efc60"/><stop offset="0.0282" stop-color="#6bfc91"/><stop offset="0.0423" stop-color="#3efcbd"/><stop offset="0.0563" stop-color="#27fcd4"/><stop offset="0.0704" stop-color="#2efccd"/><stop offset="0.0845" stop-color="#4dfcae"/><stop offset="0.0986" stop-color="#77fc86"/><stop offset="0.1127" stop-color="#a3fc5a"/><stop offset="0.1268" stop-color="#cafc34"/><stop offset="0.1408" stop-color="#dcfc22"/><stop offset="0.1549" stop-color="#cefc30"/><stop offset="0.1690" stop-color="#a9fc54"/><stop offset="0.1831" stop-color="#80fc7c"/><stop offset="0.1972" stop-color="#5afca1"/><stop offset="0.2113" stop-color="#3efcbe"/><stop offset="0.2254" stop-color="#35fcc6"/><stop offset="0.2394" stop-color="#44fcb7"/><stop offset="0.2535" stop-color="#62fc9a"/><stop offset="0.2676" stop-color="#81fc7b"/><stop offset="0.2817" stop-color="#9dfc60"/><stop offset="0.2958" stop-color="#b0fc4d"/><stop offset="0.3099" stop-color="#b1fc4c"/><stop offset="0.3239" stop-color="#a0fc5d"/><stop offset="0.3380" stop-color="#89fc74"/><stop offset="0.3521" stop-color="#76fc86"/><stop offset="0.3662" stop-color="#6afc92"/><stop offset="0.3803" stop-color="#65fc97"/><stop offset="0.3944" stop-color="#66fc96"/><stop offset="0.4085" stop-color="#6cfc90"/><stop offset="0.4225" stop-color="#73fc89"/><stop offset="0.4366" stop-color="#7afc83"/><stop offset="0.4507" stop-color="#7efc7f"/><stop offset="0.4648" stop-color="#82fc7b"/><stop offset="0.4789" stop-color="#89fc73"/><stop offset="0.4930" stop-color="#94fc69"/><stop offset="0.5070" stop-color="#9cfc61"/><stop offset="0.5211" stop-color="#98fc65"/><stop offset="0.5352" stop-color="#8dfc70"/><stop offset="0.5493" stop-color="#81fc7b"/><stop offset="0.5634" stop-color="#77fc85"/><stop offset="0.5775" stop-color="#6cfc90"/><stop offset="0.5915" stop-color="#63fc99"/><stop offset="0.6056" stop-color="#62fc9a"/><stop offset="0.6197" stop-color="#6cfc90"/><stop offset="0.6338" stop-color="#7dfc7f"/><stop offset="0.6479" stop-color="#92fc6b"/><stop offset="0.6620" stop-color="#a1fc5c"/><stop offset="0.6761" stop-color="#a1fc5c"/><stop offset="0.6901" stop-color="#92fc6b"/><stop offset="0.7042" stop-color="#80fc7d"/><stop offset="0.7183" stop-color="#71fc8b"/><stop offset="0.7324" stop-color="#6cfc90"/><stop offset="0.7465" stop-color="#70fc8d"/><stop offset="0.7606" stop-color="#79fc83"/><stop offset="0.7746" stop-color="#82fc7a"/><stop offset="0.7887" stop-color="#88fc74"/><stop offset="0.8028" stop-color="#89fc74"/><stop offset="0.8169" stop-color="#84fc78"/><stop offset="0.8310" stop-color="#7efc7e"/><stop offset="0.8451" stop-color="#79fc84"/><stop offset="0.8592" stop-color="#75fc87"/><stop offset="0.8732" stop-color="#77fc85"/><stop offset="0.8873" stop-color="#7cfc80"/><stop offset="0.9014" stop-color="#81fc7c"/><stop offset="0.9155" stop-color="#84fc78"/><stop offset="0.9296" stop-color="#86fc77"/><stop offset="0.9437" stop-color="#84fc79"/><stop offset="0.9577" stop-color="#81fc7b"/><stop offset="0.9718" stop-color="#80fc7d"/><stop offset="0.9859" stop-color="#80fc7d"/><stop offset="1.0000" stop-color="#80fc7d"/></linearGradient><linearGradient id="sf1" gradientUnits="userSpaceOnUse" x1="233.7" y1="0" x2="446.3" y2="0"><stop offset="0.0000" stop-color="#fefc01"/><stop offset="0.0141" stop-color="#c1fc3c"/><stop offset="0.0282" stop-color="#76fc87"/><stop offset="0.0423" stop-color="#2efccd"/><stop offset="0.0563" stop-color="#00fbfa"/><stop offset="0.0704" stop-color="#00f9fa"/><stop offset="0.0845" stop-color="#24fcd7"/><stop offset="0.0986" stop-color="#60fc9c"/><stop offset="0.1127" stop-color="#a2fc5b"/><stop offset="0.1268" stop-color="#e1fc1d"/><stop offset="0.1408" stop-color="#fff300"/><stop offset="0.1549" stop-color="#fffa00"/><stop offset="0.1690" stop-color="#d0fc2e"/><stop offset="0.1831" stop-color="#92fc6b"/><stop offset="0.1972" stop-color="#57fca5"/><stop offset="0.2113" stop-color="#26fcd5"/><stop offset="0.2254" stop-color="#0ffceb"/><stop offset="0.2394" stop-color="#1dfcde"/><stop offset="0.2535" stop-color="#46fcb6"/><stop offset="0.2676" stop-color="#75fc87"/><stop offset="0.2817" stop-color="#a1fc5c"/><stop offset="0.2958" stop-color="#c3fc3a"/><stop offset="0.3099" stop-color="#cdfc31"/><stop offset="0.3239" stop-color="#b9fc44"/><stop offset="0.3380" stop-color="#97fc66"/><stop offset="0.3521" stop-color="#78fc84"/><stop offset="0.3662" stop-color="#63fc99"/><stop offset="0.3803" stop-color="#58fca4"/><stop offset="0.3944" stop-color="#57fca5"/><stop offset="0.4085" stop-color="#5efc9d"/><stop offset="0.4225" stop-color="#6afc92"/><stop offset="0.4366" stop-color="#74fc88"/><stop offset="0.4507" stop-color="#7bfc81"/><stop offset="0.4648" stop-color="#81fc7b"/><stop offset="0.4789" stop-color="#8bfc72"/><stop offset="0.4930" stop-color="#9afc63"/><stop offset="0.5070" stop-color="#a8fc55"/><stop offset="0.5211" stop-color="#a8fc55"/><stop offset="0.5352" stop-color="#99fc64"/><stop offset="0.5493" stop-color="#87fc76"/><stop offset="0.5634" stop-color="#77fc85"/><stop offset="0.5775" stop-color="#67fc95"/><stop offset="0.5915" stop-color="#57fca4"/><stop offset="0.6056" stop-color="#52fcaa"/><stop offset="0.6197" stop-color="#5cfca0"/><stop offset="0.6338" stop-color="#74fc88"/><stop offset="0.6479" stop-color="#93fc6a"/><stop offset="0.6620" stop-color="#aefc50"/><stop offset="0.6761" stop-color="#b4fc49"/><stop offset="0.6901" stop-color="#a3fc5a"/><stop offset="0.7042" stop-color="#87fc75"/><stop offset="0.7183" stop-color="#6ffc8d"/><stop offset="0.7324" stop-color="#62fc99"/><stop offset="0.7465" stop-color="#65fc97"/><stop offset="0.7606" stop-color="#71fc8b"/><stop offset="0.7746" stop-color="#80fc7c"/><stop offset="0.7887" stop-color="#8bfc72"/><stop offset="0.8028" stop-color="#8efc6f"/><stop offset="0.8169" stop-color="#89fc74"/><stop offset="0.8310" stop-color="#80fc7c"/><stop offset="0.8451" stop-color="#77fc85"/><stop offset="0.8592" stop-color="#71fc8b"/><stop offset="0.8732" stop-color="#71fc8b"/><stop offset="0.8873" stop-color="#78fc84"/><stop offset="0.9014" stop-color="#80fc7d"/><stop offset="0.9155" stop-color="#86fc77"/><stop offset="0.9296" stop-color="#89fc74"/><stop offset="0.9437" stop-color="#87fc76"/><stop offset="0.9577" stop-color="#83fc79"/><stop offset="0.9718" stop-color="#81fc7c"/><stop offset="0.9859" stop-color="#80fc7d"/><stop offset="1.0000" stop-color="#80fc7d"/></linearGradient><linearGradient id="sf2" gradientUnits="userSpaceOnUse" x1="233.7" y1="0" x2="446.3" y2="0"><stop offset="0.0000" stop-color="#ffb800"/><stop offset="0.0141" stop-color="#f9fc06"/><stop offset="0.0282" stop-color="#90fc6d"/><stop offset="0.0423" stop-color="#26fcd5"/><stop offset="0.0563" stop-color="#00d3fa"/><stop offset="0.0704" stop-color="#00bdfa"/><stop offset="0.0845" stop-color="#00e6fa"/><stop offset="0.0986" stop-color="#3afcc1"/><stop offset="0.1127" stop-color="#96fc67"/><stop offset="0.1268" stop-color="#f3fc0c"/><stop offset="0.1408" stop-color="#ffc300"/><stop offset="0.1549" stop-color="#ffbb00"/><stop offset="0.1690" stop-color="#fff200"/><stop offset="0.1831" stop-color="#b2fc4b"/><stop offset="0.1972" stop-color="#5cfca0"/><stop offset="0.2113" stop-color="#11fce9"/><stop offset="0.2254" stop-color="#00e0fa"/><stop offset="0.2394" stop-color="#00e5fa"/><stop offset="0.2535" stop-color="#1bfce0"/><stop offset="0.2676" stop-color="#5efc9e"/><stop offset="0.2817" stop-color="#9ffc5e"/><stop offset="0.2958" stop-color="#d5fc29"/><stop offset="0.3099" stop-color="#eefc10"/><stop offset="0.3239" stop-color="#ddfc21"/><stop offset="0.3380" stop-color="#affc4f"/><stop offset="0.3521" stop-color="#80fc7d"/><stop offset="0.3662" stop-color="#5efc9e"/><stop offset="0.3803" stop-color="#4bfcb1"/><stop offset="0.3944" stop-color="#45fcb6"/><stop offset="0.4085" stop-color="#4dfcaf"/><stop offset="0.4225" stop-color="#5cfca0"/><stop offset="0.4366" stop-color="#6cfc90"/><stop offset="0.4507" stop-color="#77fc85"/><stop offset="0.4648" stop-color="#7ffc7d"/><stop offset="0.4789" stop-color="#8bfc72"/><stop offset="0.4930" stop-color="#9ffc5e"/><stop offset="0.5070" stop-color="#b5fc48"/><stop offset="0.5211" stop-color="#bcfc42"/><stop offset="0.5352" stop-color="#abfc53"/><stop offset="0.5493" stop-color="#91fc6c"/><stop offset="0.5634" stop-color="#79fc83"/><stop offset="0.5775" stop-color="#63fc99"/><stop offset="0.5915" stop-color="#4cfcb0"/><stop offset="0.6056" stop-color="#3ffcbc"/><stop offset="0.6197" stop-color="#47fcb4"/><stop offset="0.6338" stop-color="#64fc98"/><stop offset="0.6479" stop-color="#8ffc6e"/><stop offset="0.6620" stop-color="#b9fc45"/><stop offset="0.6761" stop-color="#ccfc32"/><stop offset="0.6901" stop-color="#bbfc42"/><stop offset="0.7042" stop-color="#96fc67"/><stop offset="0.7183" stop-color="#71fc8b"/><stop offset="0.7324" stop-color="#59fca2"/><stop offset="0.7465" stop-color="#56fca5"/><stop offset="0.7606" stop-color="#66fc96"/><stop offset="0.7746" stop-color="#7bfc81"/><stop offset="0.7887" stop-color="#8dfc70"/><stop offset="0.8028" stop-color="#95fc68"/><stop offset="0.8169" stop-color="#90fc6d"/><stop offset="0.8310" stop-color="#84fc78"/><stop offset="0.8451" stop-color="#77fc85"/><stop offset="0.8592" stop-color="#6dfc8f"/><stop offset="0.8732" stop-color="#6afc92"/><stop offset="0.8873" stop-color="#72fc8a"/><stop offset="0.9014" stop-color="#7dfc80"/><stop offset="0.9155" stop-color="#86fc77"/><stop offset="0.9296" stop-color="#8cfc71"/><stop offset="0.9437" stop-color="#8bfc71"/><stop offset="0.9577" stop-color="#86fc76"/><stop offset="0.9718" stop-color="#82fc7b"/><stop offset="0.9859" stop-color="#80fc7d"/><stop offset="1.0000" stop-color="#80fc7d"/></linearGradient><linearGradient id="sf3" gradientUnits="userSpaceOnUse" x1="233.7" y1="0" x2="446.3" y2="0"><stop offset="0.0000" stop-color="#ff6700"/><stop offset="0.0141" stop-color="#ffb800"/><stop offset="0.0282" stop-color="#bffc3f"/><stop offset="0.0423" stop-color="#2efccd"/><stop offset="0.0563" stop-color="#00b2fa"/><stop offset="0.0704" stop-color="#007cfa"/><stop offset="0.0845" stop-color="#009dfa"/><stop offset="0.0986" stop-color="#01fcf9"/><stop offset="0.1127" stop-color="#7afc82"/><stop offset="0.1268" stop-color="#f8fc07"/><stop offset="0.1408" stop-color="#ff9900"/><stop offset="0.1549" stop-color="#ff7400"/><stop offset="0.1690" stop-color="#ffa900"/><stop offset="0.1831" stop-color="#e5fc1a"/><stop offset="0.1972" stop-color="#6ffc8d"/><stop offset="0.2113" stop-color="#06fcf4"/><stop offset="0.2254" stop-color="#00b7fa"/><stop offset="0.2394" stop-color="#00aafa"/><stop offset="0.2535" stop-color="#00dffa"/><stop offset="0.2676" stop-color="#39fcc2"/><stop offset="0.2817" stop-color="#92fc6b"/><stop offset="0.2958" stop-color="#e0fc1f"/><stop offset="0.3099" stop-color="#ffeb00"/><stop offset="0.3239" stop-color="#fff300"/><stop offset="0.3380" stop-color="#d2fc2d"/><stop offset="0.3521" stop-color="#90fc6d"/><stop offset="0.3662" stop-color="#5efc9e"/><stop offset="0.3803" stop-color="#3efcbd"/><stop offset="0.3944" stop-color="#31fcca"/><stop offset="0.4085" stop-color="#37fcc4"/><stop offset="0.4225" stop-color="#4afcb1"/><stop offset="0.4366" stop-color="#60fc9c"/><stop offset="0.4507" stop-color="#71fc8b"/><stop offset="0.4648" stop-color="#7cfc80"/><stop offset="0.4789" stop-color="#89fc74"/><stop offset="0.4930" stop-color="#a1fc5c"/><stop offset="0.5070" stop-color="#c0fc3e"/><stop offset="0.5211" stop-color="#d1fc2d"/><stop offset="0.5352" stop-color="#c2fc3c"/><stop offset="0.5493" stop-color="#a0fc5d"/><stop offset="0.5634" stop-color="#80fc7d"/><stop offset="0.5775" stop-color="#62fc9a"/><stop offset="0.5915" stop-color="#43fcb9"/><stop offset="0.6056" stop-color="#2cfccf"/><stop offset="0.6197" stop-color="#2efccd"/><stop offset="0.6338" stop-color="#4efcae"/><stop offset="0.6479" stop-color="#83fc7a"/><stop offset="0.6620" stop-color="#befc40"/><stop offset="0.6761" stop-color="#e3fc1b"/><stop offset="0.6901" stop-color="#dafc24"/><stop offset="0.7042" stop-color="#acfc51"/><stop offset="0.7183" stop-color="#79fc84"/><stop offset="0.7324" stop-color="#53fca9"/><stop offset="0.7465" stop-color="#47fcb5"/><stop offset="0.7606" stop-color="#56fca6"/><stop offset="0.7746" stop-color="#71fc8b"/><stop offset="0.7887" stop-color="#8bfc71"/><stop offset="0.8028" stop-color="#9afc63"/><stop offset="0.8169" stop-color="#99fc64"/><stop offset="0.8310" stop-color="#8bfc72"/><stop offset="0.8451" stop-color="#7afc83"/><stop offset="0.8592" stop-color="#6afc92"/><stop offset="0.8732" stop-color="#63fc99"/><stop offset="0.8873" stop-color="#69fc93"/><stop offset="0.9014" stop-color="#78fc85"/><stop offset="0.9155" stop-color="#85fc77"/><stop offset="0.9296" stop-color="#8ffc6e"/><stop offset="0.9437" stop-color="#90fc6c"/><stop offset="0.9577" stop-color="#8bfc72"/><stop offset="0.9718" stop-color="#84fc79"/><stop offset="0.9859" stop-color="#81fc7c"/><stop offset="1.0000" stop-color="#80fc7d"/></linearGradient><linearGradient id="sf4" gradientUnits="userSpaceOnUse" x1="233.7" y1="0" x2="446.3" y2="0"><stop offset="0.0000" stop-color="#ff1500"/><stop offset="0.0141" stop-color="#ff6100"/><stop offset="0.0282" stop-color="#fffa00"/><stop offset="0.0423" stop-color="#4bfcb1"/><stop offset="0.0563" stop-color="#00a2fa"/><stop offset="0.0704" stop-color="#0042fa"/><stop offset="0.0845" stop-color="#004efa"/><stop offset="0.0986" stop-color="#00b7fa"/><stop offset="0.1127" stop-color="#4dfcaf"/><stop offset="0.1268" stop-color="#ebfc13"/><stop offset="0.1408" stop-color="#ff7f00"/><stop offset="0.1549" stop-color="#ff3100"/><stop offset="0.1690" stop-color="#ff5600"/><stop offset="0.1831" stop-color="#ffd300"/><stop offset="0.1972" stop-color="#94fc69"/><stop offset="0.2113" stop-color="#09fcf1"/><stop offset="0.2254" stop-color="#0099fa"/><stop offset="0.2394" stop-color="#006ffa"/><stop offset="0.2535" stop-color="#009dfa"/><stop offset="0.2676" stop-color="#07fcf3"/><stop offset="0.2817" stop-color="#78fc84"/><stop offset="0.2958" stop-color="#e0fc1f"/><stop offset="0.3099" stop-color="#ffd100"/><stop offset="0.3239" stop-color="#ffc600"/><stop offset="0.3380" stop-color="#fefc01"/><stop offset="0.3521" stop-color="#aafc53"/><stop offset="0.3662" stop-color="#64fc98"/><stop offset="0.3803" stop-color="#36fcc5"/><stop offset="0.3944" stop-color="#1ffcdb"/><stop offset="0.4085" stop-color="#20fcda"/><stop offset="0.4225" stop-color="#35fcc6"/><stop offset="0.4366" stop-color="#50fcab"/><stop offset="0.4507" stop-color="#68fc94"/><stop offset="0.4648" stop-color="#78fc85"/><stop offset="0.4789" stop-color="#86fc76"/><stop offset="0.4930" stop-color="#9ffc5e"/><stop offset="0.5070" stop-color="#c6fc38"/><stop offset="0.5211" stop-color="#e4fc1b"/><stop offset="0.5352" stop-color="#dcfc22"/><stop offset="0.5493" stop-color="#b5fc48"/><stop offset="0.5634" stop-color="#8bfc72"/><stop offset="0.5775" stop-color="#65fc97"/><stop offset="0.5915" stop-color="#3efcbd"/><stop offset="0.6056" stop-color="#1cfcdf"/><stop offset="0.6197" stop-color="#14fce6"/><stop offset="0.6338" stop-color="#32fcc9"/><stop offset="0.6479" stop-color="#6ffc8d"/><stop offset="0.6620" stop-color="#bafc44"/><stop offset="0.6761" stop-color="#f5fc0a"/><stop offset="0.6901" stop-color="#fbfc04"/><stop offset="0.7042" stop-color="#cafc34"/><stop offset="0.7183" stop-color="#88fc75"/><stop offset="0.7324" stop-color="#52fcaa"/><stop offset="0.7465" stop-color="#39fcc3"/><stop offset="0.7606" stop-color="#43fcb8"/><stop offset="0.7746" stop-color="#64fc98"/><stop offset="0.7887" stop-color="#86fc76"/><stop offset="0.8028" stop-color="#9efc5f"/><stop offset="0.8169" stop-color="#a2fc5b"/><stop offset="0.8310" stop-color="#93fc6a"/><stop offset="0.8451" stop-color="#7efc7e"/><stop offset="0.8592" stop-color="#69fc93"/><stop offset="0.8732" stop-color="#5cfca0"/><stop offset="0.8873" stop-color="#60fc9c"/><stop offset="0.9014" stop-color="#71fc8c"/><stop offset="0.9155" stop-color="#82fc7a"/><stop offset="0.9296" stop-color="#90fc6d"/><stop offset="0.9437" stop-color="#95fc68"/><stop offset="0.9577" stop-color="#90fc6d"/><stop offset="0.9718" stop-color="#87fc75"/><stop offset="0.9859" stop-color="#82fc7b"/><stop offset="1.0000" stop-color="#80fc7d"/></linearGradient><linearGradient id="sf5" gradientUnits="userSpaceOnUse" x1="233.7" y1="0" x2="446.3" y2="0"><stop offset="0.0000" stop-color="#ce0000"/><stop offset="0.0141" stop-color="#ff0900"/><stop offset="0.0282" stop-color="#ffaa00"/><stop offset="0.0423" stop-color="#7efc7e"/><stop offset="0.0563" stop-color="#00abfa"/><stop offset="0.0704" stop-color="#001dfa"/><stop offset="0.0845" stop-color="#0006fa"/><stop offset="0.0986" stop-color="#0068fa"/><stop offset="0.1127" stop-color="#11fcea"/><stop offset="0.1268" stop-color="#cafc34"/><stop offset="0.1408" stop-color="#ff7c00"/><stop offset="0.1549" stop-color="#ff0200"/><stop offset="0.1690" stop-color="#ff0700"/><stop offset="0.1831" stop-color="#ff8500"/><stop offset="0.1972" stop-color="#c8fc36"/><stop offset="0.2113" stop-color="#1ffcdb"/><stop offset="0.2254" stop-color="#008efa"/><stop offset="0.2394" stop-color="#0041fa"/><stop offset="0.2535" stop-color="#005cfa"/><stop offset="0.2676" stop-color="#00c8fa"/><stop offset="0.2817" stop-color="#52fcaa"/><stop offset="0.2958" stop-color="#d1fc2d"/><stop offset="0.3099" stop-color="#ffc500"/><stop offset="0.3239" stop-color="#ff9f00"/><stop offset="0.3380" stop-color="#ffce00"/><stop offset="0.3521" stop-color="#cefc30"/><stop offset="0.3662" stop-color="#74fc88"/><stop offset="0.3803" stop-color="#35fcc6"/><stop offset="0.3944" stop-color="#12fce8"/><stop offset="0.4085" stop-color="#0cfcef"/><stop offset="0.4225" stop-color="#1efcdc"/><stop offset="0.4366" stop-color="#3ffcbd"/><stop offset="0.4507" stop-color="#5dfc9f"/><stop offset="0.4648" stop-color="#72fc8a"/><stop offset="0.4789" stop-color="#82fc7b"/><stop offset="0.4930" stop-color="#9bfc62"/><stop offset="0.5070" stop-color="#c6fc38"/><stop offset="0.5211" stop-color="#f0fc0f"/><stop offset="0.5352" stop-color="#f5fc0a"/><stop offset="0.5493" stop-color="#cefc30"/><stop offset="0.5634" stop-color="#9afc63"/><stop offset="0.5775" stop-color="#6dfc90"/><stop offset="0.5915" stop-color="#3ffcbc"/><stop offset="0.6056" stop-color="#13fce8"/><stop offset="0.6197" stop-color="#00fafa"/><stop offset="0.6338" stop-color="#16fce5"/><stop offset="0.6479" stop-color="#55fca7"/><stop offset="0.6620" stop-color="#acfc52"/><stop offset="0.6761" stop-color="#fcfc03"/><stop offset="0.6901" stop-color="#ffe400"/><stop offset="0.7042" stop-color="#ecfc12"/><stop offset="0.7183" stop-color="#9ffc5e"/><stop offset="0.7324" stop-color="#59fca3"/><stop offset="0.7465" stop-color="#30fccb"/><stop offset="0.7606" stop-color="#30fcca"/><stop offset="0.7746" stop-color="#52fca9"/><stop offset="0.7887" stop-color="#7dfc80"/><stop offset="0.8028" stop-color="#9efc5f"/><stop offset="0.8169" stop-color="#aafc54"/><stop offset="0.8310" stop-color="#9dfc60"/><stop offset="0.8451" stop-color="#85fc78"/><stop offset="0.8592" stop-color="#6cfc91"/><stop offset="0.8732" stop-color="#58fca4"/><stop offset="0.8873" stop-color="#57fca5"/><stop offset="0.9014" stop-color="#68fc94"/><stop offset="0.9155" stop-color="#7dfc7f"/><stop offset="0.9296" stop-color="#8ffc6e"/><stop offset="0.9437" stop-color="#99fc64"/><stop offset="0.9577" stop-color="#96fc67"/><stop offset="0.9718" stop-color="#8bfc71"/><stop offset="0.9859" stop-color="#83fc79"/><stop offset="1.0000" stop-color="#80fc7c"/></linearGradient><linearGradient id="sf6" gradientUnits="userSpaceOnUse" x1="233.7" y1="0" x2="446.3" y2="0"><stop offset="0.0000" stop-color="#a50000"/><stop offset="0.0141" stop-color="#bd0000"/><stop offset="0.0282" stop-color="#ff5700"/><stop offset="0.0423" stop-color="#c2fc3b"/><stop offset="0.0563" stop-color="#00d0fa"/><stop offset="0.0704" stop-color="#0016fa"/><stop offset="0.0845" stop-color="#0000cd"/><stop offset="0.0986" stop-color="#0020fa"/><stop offset="0.1127" stop-color="#00c9fa"/><stop offset="0.1268" stop-color="#98fc65"/><stop offset="0.1408" stop-color="#ff9400"/><stop offset="0.1549" stop-color="#f00000"/><stop offset="0.1690" stop-color="#c90000"/><stop offset="0.1831" stop-color="#ff3800"/><stop offset="0.1972" stop-color="#fff300"/><stop offset="0.2113" stop-color="#47fcb4"/><stop offset="0.2254" stop-color="#009afa"/><stop offset="0.2394" stop-color="#002bfa"/><stop offset="0.2535" stop-color="#0027fa"/><stop offset="0.2676" stop-color="#008cfa"/><stop offset="0.2817" stop-color="#22fcd8"/><stop offset="0.2958" stop-color="#b4fc4a"/><stop offset="0.3099" stop-color="#ffcb00"/><stop offset="0.3239" stop-color="#ff8800"/><stop offset="0.3380" stop-color="#ffa400"/><stop offset="0.3521" stop-color="#f6fc09"/><stop offset="0.3662" stop-color="#8cfc71"/><stop offset="0.3803" stop-color="#3dfcbe"/><stop offset="0.3944" stop-color="#0efced"/><stop offset="0.4085" stop-color="#00f9fa"/><stop offset="0.4225" stop-color="#0bfcef"/><stop offset="0.4366" stop-color="#2dfcce"/><stop offset="0.4507" stop-color="#50fcab"/><stop offset="0.4648" stop-color="#6bfc91"/><stop offset="0.4789" stop-color="#7dfc7f"/><stop offset="0.4930" stop-color="#94fc69"/><stop offset="0.5070" stop-color="#bffc3f"/><stop offset="0.5211" stop-color="#f2fc0d"/><stop offset="0.5352" stop-color="#fff500"/><stop offset="0.5493" stop-color="#e6fc18"/><stop offset="0.5634" stop-color="#adfc51"/><stop offset="0.5775" stop-color="#78fc84"/><stop offset="0.5915" stop-color="#46fcb5"/><stop offset="0.6056" stop-color="#13fce8"/><stop offset="0.6197" stop-color="#00eefa"/><stop offset="0.6338" stop-color="#00f9fa"/><stop offset="0.6479" stop-color="#39fcc2"/><stop offset="0.6620" stop-color="#95fc68"/><stop offset="0.6761" stop-color="#f5fc0a"/><stop offset="0.6901" stop-color="#ffd300"/><stop offset="0.7042" stop-color="#ffef00"/><stop offset="0.7183" stop-color="#bcfc42"/><stop offset="0.7324" stop-color="#68fc94"/><stop offset="0.7465" stop-color="#2ffccc"/><stop offset="0.7606" stop-color="#22fcd8"/><stop offset="0.7746" stop-color="#41fcbb"/><stop offset="0.7887" stop-color="#70fc8d"/><stop offset="0.8028" stop-color="#99fc64"/><stop offset="0.8169" stop-color="#aefc50"/><stop offset="0.8310" stop-color="#a7fc57"/><stop offset="0.8451" stop-color="#8efc6f"/><stop offset="0.8592" stop-color="#71fc8b"/><stop offset="0.8732" stop-color="#58fca4"/><stop offset="0.8873" stop-color="#50fcac"/><stop offset="0.9014" stop-color="#5efc9e"/><stop offset="0.9155" stop-color="#76fc86"/><stop offset="0.9296" stop-color="#8cfc71"/><stop offset="0.9437" stop-color="#9afc63"/><stop offset="0.9577" stop-color="#9bfc62"/><stop offset="0.9718" stop-color="#90fc6d"/><stop offset="0.9859" stop-color="#86fc77"/><stop offset="1.0000" stop-color="#81fc7c"/></linearGradient></defs>
<g clip-path="url(#sfc)"><g filter="url(#vb)"><rect x="231.7" y="238.60" width="216.60" height="2.60" fill="url(#sf0)"/><rect x="231.7" y="240.60" width="216.60" height="2.60" fill="url(#sf1)"/><rect x="231.7" y="242.60" width="216.60" height="2.60" fill="url(#sf2)"/><rect x="231.7" y="244.60" width="216.60" height="2.60" fill="url(#sf3)"/><rect x="231.7" y="246.60" width="216.60" height="2.60" fill="url(#sf4)"/><rect x="231.7" y="248.60" width="216.60" height="2.60" fill="url(#sf5)"/><rect x="231.7" y="250.60" width="216.60" height="2.60" fill="url(#sf6)"/></g></g>
<path d="M233.7,238.9 H446.3" stroke="#8a8a8a" stroke-width="0.7"/>
<path d="M446.1,238.9 V252" stroke="#8a9a8a" stroke-width="0.6"/>
</svg></body></html>
